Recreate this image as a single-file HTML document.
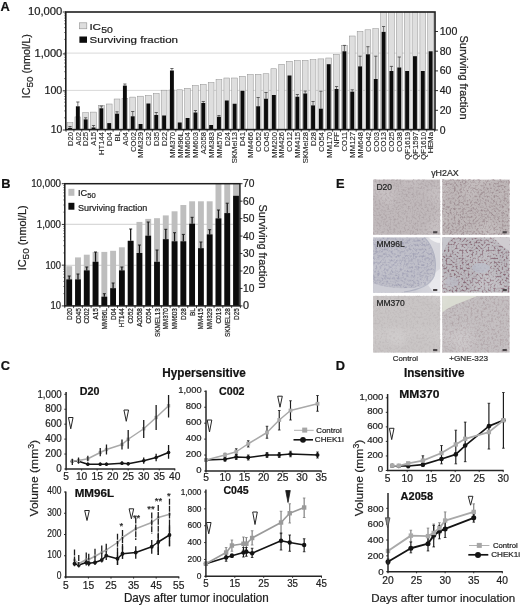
<!DOCTYPE html>
<html lang="en"><head><meta charset="utf-8"><title>Figure</title>
<style>html,body{margin:0;padding:0;background:#fff}svg{display:block}text{font-family:"Liberation Sans",sans-serif;stroke-width:.22px}</style></head>
<body>
<svg width="520" height="606" viewBox="0 0 520 606">
<rect width="520" height="606" fill="#fff"/>
<g id="panelA">
<line x1="65.80" y1="53.10" x2="435.00" y2="53.10" stroke="#cfcfcf" stroke-width="0.8"/>
<line x1="65.80" y1="90.40" x2="435.00" y2="90.40" stroke="#cfcfcf" stroke-width="0.8"/>
<rect x="67.10" y="122.70" width="5.80" height="6.90" fill="#dedede" stroke="#8f8f8f" stroke-width="0.5"/>
<rect x="74.94" y="116.90" width="5.80" height="12.70" fill="#dedede" stroke="#8f8f8f" stroke-width="0.5"/>
<rect x="82.78" y="112.70" width="5.80" height="16.90" fill="#dedede" stroke="#8f8f8f" stroke-width="0.5"/>
<rect x="90.62" y="112.10" width="5.80" height="17.50" fill="#dedede" stroke="#8f8f8f" stroke-width="0.5"/>
<rect x="98.46" y="105.40" width="5.80" height="24.20" fill="#dedede" stroke="#8f8f8f" stroke-width="0.5"/>
<rect x="106.30" y="104.00" width="5.80" height="25.60" fill="#dedede" stroke="#8f8f8f" stroke-width="0.5"/>
<rect x="114.14" y="99.00" width="5.80" height="30.60" fill="#dedede" stroke="#8f8f8f" stroke-width="0.5"/>
<rect x="121.98" y="98.70" width="5.80" height="30.90" fill="#dedede" stroke="#8f8f8f" stroke-width="0.5"/>
<rect x="129.82" y="97.10" width="5.80" height="32.50" fill="#dedede" stroke="#8f8f8f" stroke-width="0.5"/>
<rect x="137.66" y="96.20" width="5.80" height="33.40" fill="#dedede" stroke="#8f8f8f" stroke-width="0.5"/>
<rect x="145.50" y="95.40" width="5.80" height="34.20" fill="#dedede" stroke="#8f8f8f" stroke-width="0.5"/>
<rect x="153.34" y="93.50" width="5.80" height="36.10" fill="#dedede" stroke="#8f8f8f" stroke-width="0.5"/>
<rect x="161.18" y="90.20" width="5.80" height="39.40" fill="#dedede" stroke="#8f8f8f" stroke-width="0.5"/>
<rect x="169.02" y="90.00" width="5.80" height="39.60" fill="#dedede" stroke="#8f8f8f" stroke-width="0.5"/>
<rect x="176.86" y="89.80" width="5.80" height="39.80" fill="#dedede" stroke="#8f8f8f" stroke-width="0.5"/>
<rect x="184.70" y="88.25" width="5.80" height="41.35" fill="#dedede" stroke="#8f8f8f" stroke-width="0.5"/>
<rect x="192.54" y="85.50" width="5.80" height="44.10" fill="#dedede" stroke="#8f8f8f" stroke-width="0.5"/>
<rect x="200.38" y="84.25" width="5.80" height="45.35" fill="#dedede" stroke="#8f8f8f" stroke-width="0.5"/>
<rect x="208.22" y="82.50" width="5.80" height="47.10" fill="#dedede" stroke="#8f8f8f" stroke-width="0.5"/>
<rect x="216.06" y="79.50" width="5.80" height="50.10" fill="#dedede" stroke="#8f8f8f" stroke-width="0.5"/>
<rect x="223.90" y="78.00" width="5.80" height="51.60" fill="#dedede" stroke="#8f8f8f" stroke-width="0.5"/>
<rect x="231.74" y="78.00" width="5.80" height="51.60" fill="#dedede" stroke="#8f8f8f" stroke-width="0.5"/>
<rect x="239.58" y="76.25" width="5.80" height="53.35" fill="#dedede" stroke="#8f8f8f" stroke-width="0.5"/>
<rect x="247.42" y="74.50" width="5.80" height="55.10" fill="#dedede" stroke="#8f8f8f" stroke-width="0.5"/>
<rect x="255.26" y="74.25" width="5.80" height="55.35" fill="#dedede" stroke="#8f8f8f" stroke-width="0.5"/>
<rect x="263.10" y="73.75" width="5.80" height="55.85" fill="#dedede" stroke="#8f8f8f" stroke-width="0.5"/>
<rect x="270.94" y="68.75" width="5.80" height="60.85" fill="#dedede" stroke="#8f8f8f" stroke-width="0.5"/>
<rect x="278.78" y="64.25" width="5.80" height="65.35" fill="#dedede" stroke="#8f8f8f" stroke-width="0.5"/>
<rect x="286.62" y="61.25" width="5.80" height="68.35" fill="#dedede" stroke="#8f8f8f" stroke-width="0.5"/>
<rect x="294.46" y="60.50" width="5.80" height="69.10" fill="#dedede" stroke="#8f8f8f" stroke-width="0.5"/>
<rect x="302.30" y="60.40" width="5.80" height="69.20" fill="#dedede" stroke="#8f8f8f" stroke-width="0.5"/>
<rect x="310.14" y="59.70" width="5.80" height="69.90" fill="#dedede" stroke="#8f8f8f" stroke-width="0.5"/>
<rect x="317.98" y="58.90" width="5.80" height="70.70" fill="#dedede" stroke="#8f8f8f" stroke-width="0.5"/>
<rect x="325.82" y="58.00" width="5.80" height="71.60" fill="#dedede" stroke="#8f8f8f" stroke-width="0.5"/>
<rect x="333.66" y="54.30" width="5.80" height="75.30" fill="#dedede" stroke="#8f8f8f" stroke-width="0.5"/>
<rect x="341.50" y="45.40" width="5.80" height="84.20" fill="#dedede" stroke="#8f8f8f" stroke-width="0.5"/>
<rect x="349.34" y="36.00" width="5.80" height="93.60" fill="#dedede" stroke="#8f8f8f" stroke-width="0.5"/>
<rect x="357.18" y="31.40" width="5.80" height="98.20" fill="#dedede" stroke="#8f8f8f" stroke-width="0.5"/>
<rect x="365.02" y="29.80" width="5.80" height="99.80" fill="#dedede" stroke="#8f8f8f" stroke-width="0.5"/>
<rect x="372.86" y="28.70" width="5.80" height="100.90" fill="#dedede" stroke="#8f8f8f" stroke-width="0.5"/>
<rect x="380.70" y="12.00" width="5.80" height="117.60" fill="#dedede" stroke="#8f8f8f" stroke-width="0.5"/>
<rect x="388.54" y="12.00" width="5.80" height="117.60" fill="#dedede" stroke="#8f8f8f" stroke-width="0.5"/>
<rect x="396.38" y="12.00" width="5.80" height="117.60" fill="#dedede" stroke="#8f8f8f" stroke-width="0.5"/>
<rect x="404.22" y="12.00" width="5.80" height="117.60" fill="#dedede" stroke="#8f8f8f" stroke-width="0.5"/>
<rect x="412.06" y="12.00" width="5.80" height="117.60" fill="#dedede" stroke="#8f8f8f" stroke-width="0.5"/>
<rect x="419.90" y="12.00" width="5.80" height="117.60" fill="#dedede" stroke="#8f8f8f" stroke-width="0.5"/>
<rect x="427.74" y="12.00" width="5.80" height="117.60" fill="#dedede" stroke="#8f8f8f" stroke-width="0.5"/>
<line x1="70.00" y1="126.50" x2="70.00" y2="127.90" stroke="#444" stroke-width="0.7"/>
<line x1="68.40" y1="126.50" x2="71.60" y2="126.50" stroke="#444" stroke-width="0.8"/>
<rect x="68.05" y="127.90" width="3.90" height="1.70" fill="#0c0c0c"/>
<line x1="77.84" y1="102.00" x2="77.84" y2="106.30" stroke="#444" stroke-width="0.7"/>
<line x1="76.24" y1="102.00" x2="79.44" y2="102.00" stroke="#444" stroke-width="0.8"/>
<rect x="75.89" y="106.30" width="3.90" height="23.30" fill="#0c0c0c"/>
<line x1="85.68" y1="117.80" x2="85.68" y2="119.40" stroke="#444" stroke-width="0.7"/>
<line x1="84.08" y1="117.80" x2="87.28" y2="117.80" stroke="#444" stroke-width="0.8"/>
<rect x="83.73" y="119.40" width="3.90" height="10.20" fill="#0c0c0c"/>
<line x1="93.52" y1="125.50" x2="93.52" y2="127.50" stroke="#444" stroke-width="0.7"/>
<line x1="91.92" y1="125.50" x2="95.12" y2="125.50" stroke="#444" stroke-width="0.8"/>
<rect x="91.57" y="127.50" width="3.90" height="2.10" fill="#0c0c0c"/>
<line x1="101.36" y1="106.00" x2="101.36" y2="108.30" stroke="#444" stroke-width="0.7"/>
<line x1="99.76" y1="106.00" x2="102.96" y2="106.00" stroke="#444" stroke-width="0.8"/>
<rect x="99.41" y="108.30" width="3.90" height="21.30" fill="#0c0c0c"/>
<rect x="107.25" y="123.10" width="3.90" height="6.50" fill="#0c0c0c"/>
<line x1="117.04" y1="111.80" x2="117.04" y2="113.70" stroke="#444" stroke-width="0.7"/>
<line x1="115.44" y1="111.80" x2="118.64" y2="111.80" stroke="#444" stroke-width="0.8"/>
<rect x="115.09" y="113.70" width="3.90" height="15.90" fill="#0c0c0c"/>
<line x1="124.88" y1="84.00" x2="124.88" y2="85.60" stroke="#444" stroke-width="0.7"/>
<line x1="123.28" y1="84.00" x2="126.48" y2="84.00" stroke="#444" stroke-width="0.8"/>
<rect x="122.93" y="85.60" width="3.90" height="44.00" fill="#0c0c0c"/>
<line x1="132.72" y1="111.50" x2="132.72" y2="116.30" stroke="#444" stroke-width="0.7"/>
<line x1="131.12" y1="111.50" x2="134.32" y2="111.50" stroke="#444" stroke-width="0.8"/>
<rect x="130.77" y="116.30" width="3.90" height="13.30" fill="#0c0c0c"/>
<rect x="138.61" y="124.00" width="3.90" height="5.60" fill="#0c0c0c"/>
<rect x="146.45" y="103.50" width="3.90" height="26.10" fill="#0c0c0c"/>
<line x1="156.24" y1="112.50" x2="156.24" y2="115.00" stroke="#444" stroke-width="0.7"/>
<line x1="154.64" y1="112.50" x2="157.84" y2="112.50" stroke="#444" stroke-width="0.8"/>
<rect x="154.29" y="115.00" width="3.90" height="14.60" fill="#0c0c0c"/>
<rect x="162.13" y="115.50" width="3.90" height="14.10" fill="#0c0c0c"/>
<line x1="171.92" y1="68.50" x2="171.92" y2="70.50" stroke="#444" stroke-width="0.7"/>
<line x1="170.32" y1="68.50" x2="173.52" y2="68.50" stroke="#444" stroke-width="0.8"/>
<rect x="169.97" y="70.50" width="3.90" height="59.10" fill="#0c0c0c"/>
<rect x="177.81" y="122.50" width="3.90" height="7.10" fill="#0c0c0c"/>
<rect x="185.65" y="118.00" width="3.90" height="11.60" fill="#0c0c0c"/>
<line x1="195.44" y1="110.50" x2="195.44" y2="112.50" stroke="#444" stroke-width="0.7"/>
<line x1="193.84" y1="110.50" x2="197.04" y2="110.50" stroke="#444" stroke-width="0.8"/>
<rect x="193.49" y="112.50" width="3.90" height="17.10" fill="#0c0c0c"/>
<line x1="203.28" y1="101.50" x2="203.28" y2="103.00" stroke="#444" stroke-width="0.7"/>
<line x1="201.68" y1="101.50" x2="204.88" y2="101.50" stroke="#444" stroke-width="0.8"/>
<rect x="201.33" y="103.00" width="3.90" height="26.60" fill="#0c0c0c"/>
<rect x="209.17" y="125.00" width="3.90" height="4.60" fill="#0c0c0c"/>
<line x1="218.96" y1="115.50" x2="218.96" y2="116.75" stroke="#444" stroke-width="0.7"/>
<line x1="217.36" y1="115.50" x2="220.56" y2="115.50" stroke="#444" stroke-width="0.8"/>
<rect x="217.01" y="116.75" width="3.90" height="12.85" fill="#0c0c0c"/>
<rect x="224.85" y="100.50" width="3.90" height="29.10" fill="#0c0c0c"/>
<rect x="232.69" y="103.75" width="3.90" height="25.85" fill="#0c0c0c"/>
<rect x="240.53" y="90.75" width="3.90" height="38.85" fill="#0c0c0c"/>
<line x1="258.16" y1="97.50" x2="258.16" y2="106.25" stroke="#444" stroke-width="0.7"/>
<line x1="256.56" y1="97.50" x2="259.76" y2="97.50" stroke="#444" stroke-width="0.8"/>
<rect x="256.21" y="106.25" width="3.90" height="23.35" fill="#0c0c0c"/>
<line x1="266.00" y1="92.50" x2="266.00" y2="98.75" stroke="#444" stroke-width="0.7"/>
<line x1="264.40" y1="92.50" x2="267.60" y2="92.50" stroke="#444" stroke-width="0.8"/>
<rect x="264.05" y="98.75" width="3.90" height="30.85" fill="#0c0c0c"/>
<rect x="271.89" y="95.00" width="3.90" height="34.60" fill="#0c0c0c"/>
<rect x="287.57" y="75.50" width="3.90" height="54.10" fill="#0c0c0c"/>
<line x1="297.36" y1="94.50" x2="297.36" y2="96.75" stroke="#444" stroke-width="0.7"/>
<line x1="295.76" y1="94.50" x2="298.96" y2="94.50" stroke="#444" stroke-width="0.8"/>
<rect x="295.41" y="96.75" width="3.90" height="32.85" fill="#0c0c0c"/>
<line x1="305.20" y1="91.00" x2="305.20" y2="93.50" stroke="#444" stroke-width="0.7"/>
<line x1="303.60" y1="91.00" x2="306.80" y2="91.00" stroke="#444" stroke-width="0.8"/>
<rect x="303.25" y="93.50" width="3.90" height="36.10" fill="#0c0c0c"/>
<line x1="313.04" y1="101.50" x2="313.04" y2="105.40" stroke="#444" stroke-width="0.7"/>
<line x1="311.44" y1="101.50" x2="314.64" y2="101.50" stroke="#444" stroke-width="0.8"/>
<rect x="311.09" y="105.40" width="3.90" height="24.20" fill="#0c0c0c"/>
<line x1="320.88" y1="91.20" x2="320.88" y2="108.70" stroke="#444" stroke-width="0.7"/>
<line x1="319.28" y1="91.20" x2="322.48" y2="91.20" stroke="#444" stroke-width="0.8"/>
<rect x="318.93" y="108.70" width="3.90" height="20.90" fill="#0c0c0c"/>
<rect x="326.77" y="64.20" width="3.90" height="65.40" fill="#0c0c0c"/>
<line x1="336.56" y1="86.50" x2="336.56" y2="89.00" stroke="#444" stroke-width="0.7"/>
<line x1="334.96" y1="86.50" x2="338.16" y2="86.50" stroke="#444" stroke-width="0.8"/>
<rect x="334.61" y="89.00" width="3.90" height="40.60" fill="#0c0c0c"/>
<line x1="344.40" y1="45.40" x2="344.40" y2="51.30" stroke="#444" stroke-width="0.7"/>
<line x1="342.80" y1="45.40" x2="346.00" y2="45.40" stroke="#444" stroke-width="0.8"/>
<rect x="342.45" y="51.30" width="3.90" height="78.30" fill="#0c0c0c"/>
<line x1="352.24" y1="89.80" x2="352.24" y2="91.70" stroke="#444" stroke-width="0.7"/>
<line x1="350.64" y1="89.80" x2="353.84" y2="89.80" stroke="#444" stroke-width="0.8"/>
<rect x="350.29" y="91.70" width="3.90" height="37.90" fill="#0c0c0c"/>
<line x1="360.08" y1="56.20" x2="360.08" y2="66.40" stroke="#444" stroke-width="0.7"/>
<line x1="358.48" y1="56.20" x2="361.68" y2="56.20" stroke="#444" stroke-width="0.8"/>
<rect x="358.13" y="66.40" width="3.90" height="63.20" fill="#0c0c0c"/>
<line x1="367.92" y1="46.70" x2="367.92" y2="54.30" stroke="#444" stroke-width="0.7"/>
<line x1="366.32" y1="46.70" x2="369.52" y2="46.70" stroke="#444" stroke-width="0.8"/>
<rect x="365.97" y="54.30" width="3.90" height="75.30" fill="#0c0c0c"/>
<line x1="375.76" y1="56.20" x2="375.76" y2="79.00" stroke="#444" stroke-width="0.7"/>
<line x1="374.16" y1="56.20" x2="377.36" y2="56.20" stroke="#444" stroke-width="0.8"/>
<rect x="373.81" y="79.00" width="3.90" height="50.60" fill="#0c0c0c"/>
<line x1="383.60" y1="26.50" x2="383.60" y2="31.90" stroke="#444" stroke-width="0.7"/>
<line x1="382.00" y1="26.50" x2="385.20" y2="26.50" stroke="#444" stroke-width="0.8"/>
<rect x="381.65" y="31.90" width="3.90" height="97.70" fill="#0c0c0c"/>
<line x1="391.44" y1="66.40" x2="391.44" y2="71.00" stroke="#444" stroke-width="0.7"/>
<line x1="389.84" y1="66.40" x2="393.04" y2="66.40" stroke="#444" stroke-width="0.8"/>
<rect x="389.49" y="71.00" width="3.90" height="58.60" fill="#0c0c0c"/>
<line x1="399.28" y1="57.00" x2="399.28" y2="67.50" stroke="#444" stroke-width="0.7"/>
<line x1="397.68" y1="57.00" x2="400.88" y2="57.00" stroke="#444" stroke-width="0.8"/>
<rect x="397.33" y="67.50" width="3.90" height="62.10" fill="#0c0c0c"/>
<rect x="405.17" y="71.00" width="3.90" height="58.60" fill="#0c0c0c"/>
<rect x="413.01" y="56.20" width="3.90" height="73.40" fill="#0c0c0c"/>
<rect x="420.85" y="71.00" width="3.90" height="58.60" fill="#0c0c0c"/>
<rect x="428.69" y="51.30" width="3.90" height="78.30" fill="#0c0c0c"/>
<rect x="65.8" y="12.0" width="369.20" height="117.60" fill="none" stroke="#1e1e1e" stroke-width="1.6"/>
<line x1="66.08" y1="129.60" x2="66.08" y2="131.80" stroke="#1e1e1e" stroke-width="0.8"/>
<line x1="73.92" y1="129.60" x2="73.92" y2="131.80" stroke="#1e1e1e" stroke-width="0.8"/>
<line x1="81.76" y1="129.60" x2="81.76" y2="131.80" stroke="#1e1e1e" stroke-width="0.8"/>
<line x1="89.60" y1="129.60" x2="89.60" y2="131.80" stroke="#1e1e1e" stroke-width="0.8"/>
<line x1="97.44" y1="129.60" x2="97.44" y2="131.80" stroke="#1e1e1e" stroke-width="0.8"/>
<line x1="105.28" y1="129.60" x2="105.28" y2="131.80" stroke="#1e1e1e" stroke-width="0.8"/>
<line x1="113.12" y1="129.60" x2="113.12" y2="131.80" stroke="#1e1e1e" stroke-width="0.8"/>
<line x1="120.96" y1="129.60" x2="120.96" y2="131.80" stroke="#1e1e1e" stroke-width="0.8"/>
<line x1="128.80" y1="129.60" x2="128.80" y2="131.80" stroke="#1e1e1e" stroke-width="0.8"/>
<line x1="136.64" y1="129.60" x2="136.64" y2="131.80" stroke="#1e1e1e" stroke-width="0.8"/>
<line x1="144.48" y1="129.60" x2="144.48" y2="131.80" stroke="#1e1e1e" stroke-width="0.8"/>
<line x1="152.32" y1="129.60" x2="152.32" y2="131.80" stroke="#1e1e1e" stroke-width="0.8"/>
<line x1="160.16" y1="129.60" x2="160.16" y2="131.80" stroke="#1e1e1e" stroke-width="0.8"/>
<line x1="168.00" y1="129.60" x2="168.00" y2="131.80" stroke="#1e1e1e" stroke-width="0.8"/>
<line x1="175.84" y1="129.60" x2="175.84" y2="131.80" stroke="#1e1e1e" stroke-width="0.8"/>
<line x1="183.68" y1="129.60" x2="183.68" y2="131.80" stroke="#1e1e1e" stroke-width="0.8"/>
<line x1="191.52" y1="129.60" x2="191.52" y2="131.80" stroke="#1e1e1e" stroke-width="0.8"/>
<line x1="199.36" y1="129.60" x2="199.36" y2="131.80" stroke="#1e1e1e" stroke-width="0.8"/>
<line x1="207.20" y1="129.60" x2="207.20" y2="131.80" stroke="#1e1e1e" stroke-width="0.8"/>
<line x1="215.04" y1="129.60" x2="215.04" y2="131.80" stroke="#1e1e1e" stroke-width="0.8"/>
<line x1="222.88" y1="129.60" x2="222.88" y2="131.80" stroke="#1e1e1e" stroke-width="0.8"/>
<line x1="230.72" y1="129.60" x2="230.72" y2="131.80" stroke="#1e1e1e" stroke-width="0.8"/>
<line x1="238.56" y1="129.60" x2="238.56" y2="131.80" stroke="#1e1e1e" stroke-width="0.8"/>
<line x1="246.40" y1="129.60" x2="246.40" y2="131.80" stroke="#1e1e1e" stroke-width="0.8"/>
<line x1="254.24" y1="129.60" x2="254.24" y2="131.80" stroke="#1e1e1e" stroke-width="0.8"/>
<line x1="262.08" y1="129.60" x2="262.08" y2="131.80" stroke="#1e1e1e" stroke-width="0.8"/>
<line x1="269.92" y1="129.60" x2="269.92" y2="131.80" stroke="#1e1e1e" stroke-width="0.8"/>
<line x1="277.76" y1="129.60" x2="277.76" y2="131.80" stroke="#1e1e1e" stroke-width="0.8"/>
<line x1="285.60" y1="129.60" x2="285.60" y2="131.80" stroke="#1e1e1e" stroke-width="0.8"/>
<line x1="293.44" y1="129.60" x2="293.44" y2="131.80" stroke="#1e1e1e" stroke-width="0.8"/>
<line x1="301.28" y1="129.60" x2="301.28" y2="131.80" stroke="#1e1e1e" stroke-width="0.8"/>
<line x1="309.12" y1="129.60" x2="309.12" y2="131.80" stroke="#1e1e1e" stroke-width="0.8"/>
<line x1="316.96" y1="129.60" x2="316.96" y2="131.80" stroke="#1e1e1e" stroke-width="0.8"/>
<line x1="324.80" y1="129.60" x2="324.80" y2="131.80" stroke="#1e1e1e" stroke-width="0.8"/>
<line x1="332.64" y1="129.60" x2="332.64" y2="131.80" stroke="#1e1e1e" stroke-width="0.8"/>
<line x1="340.48" y1="129.60" x2="340.48" y2="131.80" stroke="#1e1e1e" stroke-width="0.8"/>
<line x1="348.32" y1="129.60" x2="348.32" y2="131.80" stroke="#1e1e1e" stroke-width="0.8"/>
<line x1="356.16" y1="129.60" x2="356.16" y2="131.80" stroke="#1e1e1e" stroke-width="0.8"/>
<line x1="364.00" y1="129.60" x2="364.00" y2="131.80" stroke="#1e1e1e" stroke-width="0.8"/>
<line x1="371.84" y1="129.60" x2="371.84" y2="131.80" stroke="#1e1e1e" stroke-width="0.8"/>
<line x1="379.68" y1="129.60" x2="379.68" y2="131.80" stroke="#1e1e1e" stroke-width="0.8"/>
<line x1="387.52" y1="129.60" x2="387.52" y2="131.80" stroke="#1e1e1e" stroke-width="0.8"/>
<line x1="395.36" y1="129.60" x2="395.36" y2="131.80" stroke="#1e1e1e" stroke-width="0.8"/>
<line x1="403.20" y1="129.60" x2="403.20" y2="131.80" stroke="#1e1e1e" stroke-width="0.8"/>
<line x1="411.04" y1="129.60" x2="411.04" y2="131.80" stroke="#1e1e1e" stroke-width="0.8"/>
<line x1="418.88" y1="129.60" x2="418.88" y2="131.80" stroke="#1e1e1e" stroke-width="0.8"/>
<line x1="426.72" y1="129.60" x2="426.72" y2="131.80" stroke="#1e1e1e" stroke-width="0.8"/>
<line x1="434.56" y1="129.60" x2="434.56" y2="131.80" stroke="#1e1e1e" stroke-width="0.8"/>
<line x1="64.00" y1="117.80" x2="65.80" y2="117.80" stroke="#1e1e1e" stroke-width="0.5"/>
<line x1="64.00" y1="110.90" x2="65.80" y2="110.90" stroke="#1e1e1e" stroke-width="0.5"/>
<line x1="64.00" y1="106.00" x2="65.80" y2="106.00" stroke="#1e1e1e" stroke-width="0.5"/>
<line x1="64.00" y1="102.20" x2="65.80" y2="102.20" stroke="#1e1e1e" stroke-width="0.5"/>
<line x1="64.00" y1="99.10" x2="65.80" y2="99.10" stroke="#1e1e1e" stroke-width="0.5"/>
<line x1="64.00" y1="96.47" x2="65.80" y2="96.47" stroke="#1e1e1e" stroke-width="0.5"/>
<line x1="64.00" y1="94.20" x2="65.80" y2="94.20" stroke="#1e1e1e" stroke-width="0.5"/>
<line x1="64.00" y1="92.19" x2="65.80" y2="92.19" stroke="#1e1e1e" stroke-width="0.5"/>
<line x1="64.00" y1="78.60" x2="65.80" y2="78.60" stroke="#1e1e1e" stroke-width="0.5"/>
<line x1="64.00" y1="71.70" x2="65.80" y2="71.70" stroke="#1e1e1e" stroke-width="0.5"/>
<line x1="64.00" y1="66.80" x2="65.80" y2="66.80" stroke="#1e1e1e" stroke-width="0.5"/>
<line x1="64.00" y1="63.00" x2="65.80" y2="63.00" stroke="#1e1e1e" stroke-width="0.5"/>
<line x1="64.00" y1="59.90" x2="65.80" y2="59.90" stroke="#1e1e1e" stroke-width="0.5"/>
<line x1="64.00" y1="57.27" x2="65.80" y2="57.27" stroke="#1e1e1e" stroke-width="0.5"/>
<line x1="64.00" y1="55.00" x2="65.80" y2="55.00" stroke="#1e1e1e" stroke-width="0.5"/>
<line x1="64.00" y1="52.99" x2="65.80" y2="52.99" stroke="#1e1e1e" stroke-width="0.5"/>
<line x1="64.00" y1="39.40" x2="65.80" y2="39.40" stroke="#1e1e1e" stroke-width="0.5"/>
<line x1="64.00" y1="32.50" x2="65.80" y2="32.50" stroke="#1e1e1e" stroke-width="0.5"/>
<line x1="64.00" y1="27.60" x2="65.80" y2="27.60" stroke="#1e1e1e" stroke-width="0.5"/>
<line x1="64.00" y1="23.80" x2="65.80" y2="23.80" stroke="#1e1e1e" stroke-width="0.5"/>
<line x1="64.00" y1="20.70" x2="65.80" y2="20.70" stroke="#1e1e1e" stroke-width="0.5"/>
<line x1="64.00" y1="18.07" x2="65.80" y2="18.07" stroke="#1e1e1e" stroke-width="0.5"/>
<line x1="64.00" y1="15.80" x2="65.80" y2="15.80" stroke="#1e1e1e" stroke-width="0.5"/>
<line x1="64.00" y1="13.79" x2="65.80" y2="13.79" stroke="#1e1e1e" stroke-width="0.5"/>
<line x1="62.80" y1="130.00" x2="65.80" y2="130.00" stroke="#1e1e1e" stroke-width="0.9"/>
<text x="62.30" y="133.20" font-size="10.2" text-anchor="end" fill="#1e1e1e" stroke="#1e1e1e" textLength="11.6" lengthAdjust="spacingAndGlyphs">10</text>
<line x1="62.80" y1="90.80" x2="65.80" y2="90.80" stroke="#1e1e1e" stroke-width="0.9"/>
<text x="62.30" y="94.00" font-size="10.2" text-anchor="end" fill="#1e1e1e" stroke="#1e1e1e" textLength="17.8" lengthAdjust="spacingAndGlyphs">100</text>
<line x1="62.80" y1="53.90" x2="65.80" y2="53.90" stroke="#1e1e1e" stroke-width="0.9"/>
<text x="62.30" y="57.10" font-size="10.2" text-anchor="end" fill="#1e1e1e" stroke="#1e1e1e" textLength="27.8" lengthAdjust="spacingAndGlyphs">1,000</text>
<line x1="62.80" y1="12.00" x2="65.80" y2="12.00" stroke="#1e1e1e" stroke-width="0.9"/>
<text x="62.30" y="15.20" font-size="10.2" text-anchor="end" fill="#1e1e1e" stroke="#1e1e1e" textLength="34.3" lengthAdjust="spacingAndGlyphs">10,000</text>
<line x1="435.00" y1="130.00" x2="438.00" y2="130.00" stroke="#1e1e1e" stroke-width="0.9"/>
<text x="439.70" y="133.50" font-size="10.2" fill="#1e1e1e" stroke="#1e1e1e" textLength="5.8" lengthAdjust="spacingAndGlyphs">0</text>
<line x1="435.00" y1="110.30" x2="438.00" y2="110.30" stroke="#1e1e1e" stroke-width="0.9"/>
<text x="439.70" y="113.80" font-size="10.2" fill="#1e1e1e" stroke="#1e1e1e" textLength="11.7" lengthAdjust="spacingAndGlyphs">20</text>
<line x1="435.00" y1="90.60" x2="438.00" y2="90.60" stroke="#1e1e1e" stroke-width="0.9"/>
<text x="439.70" y="94.10" font-size="10.2" fill="#1e1e1e" stroke="#1e1e1e" textLength="11.7" lengthAdjust="spacingAndGlyphs">40</text>
<line x1="435.00" y1="70.90" x2="438.00" y2="70.90" stroke="#1e1e1e" stroke-width="0.9"/>
<text x="439.70" y="74.40" font-size="10.2" fill="#1e1e1e" stroke="#1e1e1e" textLength="11.7" lengthAdjust="spacingAndGlyphs">60</text>
<line x1="435.00" y1="51.20" x2="438.00" y2="51.20" stroke="#1e1e1e" stroke-width="0.9"/>
<text x="439.70" y="54.70" font-size="10.2" fill="#1e1e1e" stroke="#1e1e1e" textLength="11.7" lengthAdjust="spacingAndGlyphs">80</text>
<line x1="435.00" y1="31.50" x2="438.00" y2="31.50" stroke="#1e1e1e" stroke-width="0.9"/>
<text x="439.70" y="35.00" font-size="10.2" fill="#1e1e1e" stroke="#1e1e1e" textLength="17.7" lengthAdjust="spacingAndGlyphs">100</text>
<text x="72.80" y="132.00" font-size="7.7" text-anchor="end" fill="#1e1e1e" stroke="#1e1e1e" style="stroke-width:0.1px" transform="rotate(-90 72.80 132.00)">D20</text>
<text x="80.64" y="132.00" font-size="7.7" text-anchor="end" fill="#1e1e1e" stroke="#1e1e1e" style="stroke-width:0.1px" transform="rotate(-90 80.64 132.00)">A02</text>
<text x="88.48" y="132.00" font-size="7.7" text-anchor="end" fill="#1e1e1e" stroke="#1e1e1e" style="stroke-width:0.1px" transform="rotate(-90 88.48 132.00)">D25</text>
<text x="96.32" y="132.00" font-size="7.7" text-anchor="end" fill="#1e1e1e" stroke="#1e1e1e" style="stroke-width:0.1px" transform="rotate(-90 96.32 132.00)">A15</text>
<text x="104.16" y="132.00" font-size="7.7" text-anchor="end" fill="#1e1e1e" stroke="#1e1e1e" style="stroke-width:0.1px" transform="rotate(-90 104.16 132.00)">HT144</text>
<text x="112.00" y="132.00" font-size="7.7" text-anchor="end" fill="#1e1e1e" stroke="#1e1e1e" style="stroke-width:0.1px" transform="rotate(-90 112.00 132.00)">D04</text>
<text x="119.84" y="132.00" font-size="7.7" text-anchor="end" fill="#1e1e1e" stroke="#1e1e1e" style="stroke-width:0.1px" transform="rotate(-90 119.84 132.00)">BL</text>
<text x="127.68" y="132.00" font-size="7.7" text-anchor="end" fill="#1e1e1e" stroke="#1e1e1e" style="stroke-width:0.1px" transform="rotate(-90 127.68 132.00)">A04</text>
<text x="135.52" y="132.00" font-size="7.7" text-anchor="end" fill="#1e1e1e" stroke="#1e1e1e" style="stroke-width:0.1px" transform="rotate(-90 135.52 132.00)">CO02</text>
<text x="143.36" y="132.00" font-size="7.7" text-anchor="end" fill="#1e1e1e" stroke="#1e1e1e" style="stroke-width:0.1px" transform="rotate(-90 143.36 132.00)">MM329</text>
<text x="151.20" y="132.00" font-size="7.7" text-anchor="end" fill="#1e1e1e" stroke="#1e1e1e" style="stroke-width:0.1px" transform="rotate(-90 151.20 132.00)">C32</text>
<text x="159.04" y="132.00" font-size="7.7" text-anchor="end" fill="#1e1e1e" stroke="#1e1e1e" style="stroke-width:0.1px" transform="rotate(-90 159.04 132.00)">D35</text>
<text x="166.88" y="132.00" font-size="7.7" text-anchor="end" fill="#1e1e1e" stroke="#1e1e1e" style="stroke-width:0.1px" transform="rotate(-90 166.88 132.00)">D22</text>
<text x="174.72" y="132.00" font-size="7.7" text-anchor="end" fill="#1e1e1e" stroke="#1e1e1e" style="stroke-width:0.1px" transform="rotate(-90 174.72 132.00)">MM370</text>
<text x="182.56" y="132.00" font-size="7.7" text-anchor="end" fill="#1e1e1e" stroke="#1e1e1e" style="stroke-width:0.1px" transform="rotate(-90 182.56 132.00)">MM96L</text>
<text x="190.40" y="132.00" font-size="7.7" text-anchor="end" fill="#1e1e1e" stroke="#1e1e1e" style="stroke-width:0.1px" transform="rotate(-90 190.40 132.00)">MM604</text>
<text x="198.24" y="132.00" font-size="7.7" text-anchor="end" fill="#1e1e1e" stroke="#1e1e1e" style="stroke-width:0.1px" transform="rotate(-90 198.24 132.00)">MM603</text>
<text x="206.08" y="132.00" font-size="7.7" text-anchor="end" fill="#1e1e1e" stroke="#1e1e1e" style="stroke-width:0.1px" transform="rotate(-90 206.08 132.00)">A2058</text>
<text x="213.92" y="132.00" font-size="7.7" text-anchor="end" fill="#1e1e1e" stroke="#1e1e1e" style="stroke-width:0.1px" transform="rotate(-90 213.92 132.00)">MM383</text>
<text x="221.76" y="132.00" font-size="7.7" text-anchor="end" fill="#1e1e1e" stroke="#1e1e1e" style="stroke-width:0.1px" transform="rotate(-90 221.76 132.00)">MM576</text>
<text x="229.60" y="132.00" font-size="7.7" text-anchor="end" fill="#1e1e1e" stroke="#1e1e1e" style="stroke-width:0.1px" transform="rotate(-90 229.60 132.00)">D24</text>
<text x="237.44" y="132.00" font-size="7.7" text-anchor="end" fill="#1e1e1e" stroke="#1e1e1e" style="stroke-width:0.1px" transform="rotate(-90 237.44 132.00)">SKMel13</text>
<text x="245.28" y="132.00" font-size="7.7" text-anchor="end" fill="#1e1e1e" stroke="#1e1e1e" style="stroke-width:0.1px" transform="rotate(-90 245.28 132.00)">D41</text>
<text x="253.12" y="132.00" font-size="7.7" text-anchor="end" fill="#1e1e1e" stroke="#1e1e1e" style="stroke-width:0.1px" transform="rotate(-90 253.12 132.00)">MM466</text>
<text x="260.96" y="132.00" font-size="7.7" text-anchor="end" fill="#1e1e1e" stroke="#1e1e1e" style="stroke-width:0.1px" transform="rotate(-90 260.96 132.00)">CO52</text>
<text x="268.80" y="132.00" font-size="7.7" text-anchor="end" fill="#1e1e1e" stroke="#1e1e1e" style="stroke-width:0.1px" transform="rotate(-90 268.80 132.00)">CO45</text>
<text x="276.64" y="132.00" font-size="7.7" text-anchor="end" fill="#1e1e1e" stroke="#1e1e1e" style="stroke-width:0.1px" transform="rotate(-90 276.64 132.00)">MM200</text>
<text x="284.48" y="132.00" font-size="7.7" text-anchor="end" fill="#1e1e1e" stroke="#1e1e1e" style="stroke-width:0.1px" transform="rotate(-90 284.48 132.00)">MM426</text>
<text x="292.32" y="132.00" font-size="7.7" text-anchor="end" fill="#1e1e1e" stroke="#1e1e1e" style="stroke-width:0.1px" transform="rotate(-90 292.32 132.00)">CO12</text>
<text x="300.16" y="132.00" font-size="7.7" text-anchor="end" fill="#1e1e1e" stroke="#1e1e1e" style="stroke-width:0.1px" transform="rotate(-90 300.16 132.00)">MM415</text>
<text x="308.00" y="132.00" font-size="7.7" text-anchor="end" fill="#1e1e1e" stroke="#1e1e1e" style="stroke-width:0.1px" transform="rotate(-90 308.00 132.00)">SKMel28</text>
<text x="315.84" y="132.00" font-size="7.7" text-anchor="end" fill="#1e1e1e" stroke="#1e1e1e" style="stroke-width:0.1px" transform="rotate(-90 315.84 132.00)">D28</text>
<text x="323.68" y="132.00" font-size="7.7" text-anchor="end" fill="#1e1e1e" stroke="#1e1e1e" style="stroke-width:0.1px" transform="rotate(-90 323.68 132.00)">CO54</text>
<text x="331.52" y="132.00" font-size="7.7" text-anchor="end" fill="#1e1e1e" stroke="#1e1e1e" style="stroke-width:0.1px" transform="rotate(-90 331.52 132.00)">MM170</text>
<text x="339.36" y="132.00" font-size="7.7" text-anchor="end" fill="#1e1e1e" stroke="#1e1e1e" style="stroke-width:0.1px" transform="rotate(-90 339.36 132.00)">NFF</text>
<text x="347.20" y="132.00" font-size="7.7" text-anchor="end" fill="#1e1e1e" stroke="#1e1e1e" style="stroke-width:0.1px" transform="rotate(-90 347.20 132.00)">CO11</text>
<text x="355.04" y="132.00" font-size="7.7" text-anchor="end" fill="#1e1e1e" stroke="#1e1e1e" style="stroke-width:0.1px" transform="rotate(-90 355.04 132.00)">MM127</text>
<text x="362.88" y="132.00" font-size="7.7" text-anchor="end" fill="#1e1e1e" stroke="#1e1e1e" style="stroke-width:0.1px" transform="rotate(-90 362.88 132.00)">MM648</text>
<text x="370.72" y="132.00" font-size="7.7" text-anchor="end" fill="#1e1e1e" stroke="#1e1e1e" style="stroke-width:0.1px" transform="rotate(-90 370.72 132.00)">CO42</text>
<text x="378.56" y="132.00" font-size="7.7" text-anchor="end" fill="#1e1e1e" stroke="#1e1e1e" style="stroke-width:0.1px" transform="rotate(-90 378.56 132.00)">CO03</text>
<text x="386.40" y="132.00" font-size="7.7" text-anchor="end" fill="#1e1e1e" stroke="#1e1e1e" style="stroke-width:0.1px" transform="rotate(-90 386.40 132.00)">CO13</text>
<text x="394.24" y="132.00" font-size="7.7" text-anchor="end" fill="#1e1e1e" stroke="#1e1e1e" style="stroke-width:0.1px" transform="rotate(-90 394.24 132.00)">CO25</text>
<text x="402.08" y="132.00" font-size="7.7" text-anchor="end" fill="#1e1e1e" stroke="#1e1e1e" style="stroke-width:0.1px" transform="rotate(-90 402.08 132.00)">CO38</text>
<text x="409.92" y="132.00" font-size="7.7" text-anchor="end" fill="#1e1e1e" stroke="#1e1e1e" style="stroke-width:0.1px" transform="rotate(-90 409.92 132.00)">QF1619</text>
<text x="417.76" y="132.00" font-size="7.7" text-anchor="end" fill="#1e1e1e" stroke="#1e1e1e" style="stroke-width:0.1px" transform="rotate(-90 417.76 132.00)">QF1597</text>
<text x="425.60" y="132.00" font-size="7.7" text-anchor="end" fill="#1e1e1e" stroke="#1e1e1e" style="stroke-width:0.1px" transform="rotate(-90 425.60 132.00)">QF1610</text>
<text x="433.44" y="132.00" font-size="7.7" text-anchor="end" fill="#1e1e1e" stroke="#1e1e1e" style="stroke-width:0.1px" transform="rotate(-90 433.44 132.00)">HEMa</text>
<text fill="#1e1e1e" stroke="#1e1e1e" transform="translate(29.8 66.2) rotate(-90)" font-size="10" text-anchor="middle" textLength="64" lengthAdjust="spacingAndGlyphs">IC<tspan font-size="9.2" dy="3">50</tspan><tspan dy="-3"> (nmol/L)</tspan></text>
<text fill="#1e1e1e" stroke="#1e1e1e" transform="translate(459.6 77.5) rotate(90)" font-size="11" text-anchor="middle" textLength="84" lengthAdjust="spacingAndGlyphs">Surviving fraction</text>
<rect x="79.60" y="22.80" width="7.20" height="6.00" fill="#dedede" stroke="#8f8f8f" stroke-width="0.6"/>
<text x="89.40" y="29.50" font-size="9.8" fill="#1e1e1e" stroke="#1e1e1e" textLength="11.6" lengthAdjust="spacingAndGlyphs">IC</text>
<text x="101.20" y="32.60" font-size="9.3" fill="#1e1e1e" stroke="#1e1e1e" textLength="11.6" lengthAdjust="spacingAndGlyphs">50</text>
<rect x="79.40" y="36.50" width="7.60" height="6.30" fill="#0c0c0c"/>
<text x="89.60" y="42.80" font-size="9.8" fill="#1e1e1e" stroke="#1e1e1e" textLength="88.4" lengthAdjust="spacingAndGlyphs">Surviving fraction</text>
<text x="0.60" y="11.30" font-size="12.8" font-weight="bold" fill="#111" stroke="#111">A</text>
</g>
<g id="panelB">
<line x1="64.80" y1="224.30" x2="239.90" y2="224.30" stroke="#c4c4c4" stroke-width="0.8"/>
<line x1="64.80" y1="265.30" x2="239.90" y2="265.30" stroke="#c4c4c4" stroke-width="0.8"/>
<rect x="66.25" y="266.20" width="5.90" height="39.70" fill="#bebebe"/>
<rect x="75.03" y="257.40" width="5.90" height="48.50" fill="#bebebe"/>
<rect x="83.81" y="254.70" width="5.90" height="51.20" fill="#bebebe"/>
<rect x="92.59" y="251.90" width="5.90" height="54.00" fill="#bebebe"/>
<rect x="101.37" y="251.90" width="5.90" height="54.00" fill="#bebebe"/>
<rect x="110.15" y="250.80" width="5.90" height="55.10" fill="#bebebe"/>
<rect x="118.93" y="247.30" width="5.90" height="58.60" fill="#bebebe"/>
<rect x="127.71" y="240.80" width="5.90" height="65.10" fill="#bebebe"/>
<rect x="136.49" y="221.90" width="5.90" height="84.00" fill="#bebebe"/>
<rect x="145.27" y="218.90" width="5.90" height="87.00" fill="#bebebe"/>
<rect x="154.05" y="218.20" width="5.90" height="87.70" fill="#bebebe"/>
<rect x="162.83" y="215.40" width="5.90" height="90.50" fill="#bebebe"/>
<rect x="171.61" y="211.30" width="5.90" height="94.60" fill="#bebebe"/>
<rect x="180.39" y="205.00" width="5.90" height="100.90" fill="#bebebe"/>
<rect x="189.17" y="201.30" width="5.90" height="104.60" fill="#bebebe"/>
<rect x="197.95" y="201.30" width="5.90" height="104.60" fill="#bebebe"/>
<rect x="206.73" y="201.30" width="5.90" height="104.60" fill="#bebebe"/>
<rect x="215.51" y="183.40" width="5.90" height="122.50" fill="#bebebe"/>
<rect x="224.29" y="183.40" width="5.90" height="122.50" fill="#bebebe"/>
<rect x="233.07" y="183.40" width="5.90" height="122.50" fill="#bebebe"/>
<line x1="69.20" y1="276.00" x2="69.20" y2="279.40" stroke="#161616" stroke-width="1.25"/>
<line x1="67.70" y1="276.00" x2="70.70" y2="276.00" stroke="#161616" stroke-width="0.9"/>
<rect x="66.30" y="279.40" width="5.80" height="26.50" fill="#0c0c0c"/>
<line x1="77.98" y1="274.00" x2="77.98" y2="279.40" stroke="#161616" stroke-width="1.25"/>
<line x1="76.48" y1="274.00" x2="79.48" y2="274.00" stroke="#161616" stroke-width="0.9"/>
<rect x="75.08" y="279.40" width="5.80" height="26.50" fill="#0c0c0c"/>
<line x1="86.76" y1="267.00" x2="86.76" y2="270.40" stroke="#161616" stroke-width="1.25"/>
<line x1="85.26" y1="267.00" x2="88.26" y2="267.00" stroke="#161616" stroke-width="0.9"/>
<rect x="83.86" y="270.40" width="5.80" height="35.50" fill="#0c0c0c"/>
<line x1="95.54" y1="252.00" x2="95.54" y2="261.80" stroke="#161616" stroke-width="1.25"/>
<line x1="94.04" y1="252.00" x2="97.04" y2="252.00" stroke="#161616" stroke-width="0.9"/>
<rect x="92.64" y="261.80" width="5.80" height="44.10" fill="#0c0c0c"/>
<line x1="104.32" y1="293.70" x2="104.32" y2="296.70" stroke="#161616" stroke-width="1.25"/>
<line x1="102.82" y1="293.70" x2="105.82" y2="293.70" stroke="#161616" stroke-width="0.9"/>
<rect x="101.42" y="296.70" width="5.80" height="9.20" fill="#0c0c0c"/>
<line x1="113.10" y1="283.00" x2="113.10" y2="288.20" stroke="#161616" stroke-width="1.25"/>
<line x1="111.60" y1="283.00" x2="114.60" y2="283.00" stroke="#161616" stroke-width="0.9"/>
<rect x="110.20" y="288.20" width="5.80" height="17.70" fill="#0c0c0c"/>
<line x1="121.88" y1="267.00" x2="121.88" y2="270.40" stroke="#161616" stroke-width="1.25"/>
<line x1="120.38" y1="267.00" x2="123.38" y2="267.00" stroke="#161616" stroke-width="0.9"/>
<rect x="118.98" y="270.40" width="5.80" height="35.50" fill="#0c0c0c"/>
<line x1="130.66" y1="229.00" x2="130.66" y2="240.80" stroke="#161616" stroke-width="1.25"/>
<line x1="129.16" y1="229.00" x2="132.16" y2="229.00" stroke="#161616" stroke-width="0.9"/>
<rect x="127.76" y="240.80" width="5.80" height="65.10" fill="#0c0c0c"/>
<line x1="139.44" y1="245.00" x2="139.44" y2="253.00" stroke="#161616" stroke-width="1.25"/>
<line x1="137.94" y1="245.00" x2="140.94" y2="245.00" stroke="#161616" stroke-width="0.9"/>
<rect x="136.54" y="253.00" width="5.80" height="52.90" fill="#0c0c0c"/>
<line x1="148.22" y1="222.00" x2="148.22" y2="235.70" stroke="#161616" stroke-width="1.25"/>
<line x1="146.72" y1="222.00" x2="149.72" y2="222.00" stroke="#161616" stroke-width="0.9"/>
<rect x="145.32" y="235.70" width="5.80" height="70.20" fill="#0c0c0c"/>
<line x1="157.00" y1="250.00" x2="157.00" y2="261.80" stroke="#161616" stroke-width="1.25"/>
<line x1="155.50" y1="250.00" x2="158.50" y2="250.00" stroke="#161616" stroke-width="0.9"/>
<rect x="154.10" y="261.80" width="5.80" height="44.10" fill="#0c0c0c"/>
<line x1="165.78" y1="229.30" x2="165.78" y2="239.20" stroke="#161616" stroke-width="1.25"/>
<line x1="164.28" y1="229.30" x2="167.28" y2="229.30" stroke="#161616" stroke-width="0.9"/>
<rect x="162.88" y="239.20" width="5.80" height="66.70" fill="#0c0c0c"/>
<line x1="174.56" y1="232.70" x2="174.56" y2="241.30" stroke="#161616" stroke-width="1.25"/>
<line x1="173.06" y1="232.70" x2="176.06" y2="232.70" stroke="#161616" stroke-width="0.9"/>
<rect x="171.66" y="241.30" width="5.80" height="64.60" fill="#0c0c0c"/>
<line x1="183.34" y1="234.40" x2="183.34" y2="241.30" stroke="#161616" stroke-width="1.25"/>
<line x1="181.84" y1="234.40" x2="184.84" y2="234.40" stroke="#161616" stroke-width="0.9"/>
<rect x="180.44" y="241.30" width="5.80" height="64.60" fill="#0c0c0c"/>
<line x1="192.12" y1="217.30" x2="192.12" y2="223.70" stroke="#161616" stroke-width="1.25"/>
<line x1="190.62" y1="217.30" x2="193.62" y2="217.30" stroke="#161616" stroke-width="0.9"/>
<rect x="189.22" y="223.70" width="5.80" height="82.20" fill="#0c0c0c"/>
<line x1="200.90" y1="242.00" x2="200.90" y2="248.20" stroke="#161616" stroke-width="1.25"/>
<line x1="199.40" y1="242.00" x2="202.40" y2="242.00" stroke="#161616" stroke-width="0.9"/>
<rect x="198.00" y="248.20" width="5.80" height="57.70" fill="#0c0c0c"/>
<line x1="209.68" y1="229.70" x2="209.68" y2="234.40" stroke="#161616" stroke-width="1.25"/>
<line x1="208.18" y1="229.70" x2="211.18" y2="229.70" stroke="#161616" stroke-width="0.9"/>
<rect x="206.78" y="234.40" width="5.80" height="71.50" fill="#0c0c0c"/>
<line x1="218.46" y1="210.00" x2="218.46" y2="218.40" stroke="#161616" stroke-width="1.25"/>
<line x1="216.96" y1="210.00" x2="219.96" y2="210.00" stroke="#161616" stroke-width="0.9"/>
<rect x="215.56" y="218.40" width="5.80" height="87.50" fill="#0c0c0c"/>
<line x1="227.24" y1="203.20" x2="227.24" y2="213.10" stroke="#161616" stroke-width="1.25"/>
<line x1="225.74" y1="203.20" x2="228.74" y2="203.20" stroke="#161616" stroke-width="0.9"/>
<rect x="224.34" y="213.10" width="5.80" height="92.80" fill="#0c0c0c"/>
<rect x="233.12" y="195.80" width="5.80" height="110.10" fill="#0c0c0c"/>
<rect x="64.8" y="183.7" width="175.10" height="122.20" fill="none" stroke="#1e1e1e" stroke-width="1.5"/>
<line x1="64.81" y1="305.90" x2="64.81" y2="308.10" stroke="#1e1e1e" stroke-width="0.8"/>
<line x1="73.59" y1="305.90" x2="73.59" y2="308.10" stroke="#1e1e1e" stroke-width="0.8"/>
<line x1="82.37" y1="305.90" x2="82.37" y2="308.10" stroke="#1e1e1e" stroke-width="0.8"/>
<line x1="91.15" y1="305.90" x2="91.15" y2="308.10" stroke="#1e1e1e" stroke-width="0.8"/>
<line x1="99.93" y1="305.90" x2="99.93" y2="308.10" stroke="#1e1e1e" stroke-width="0.8"/>
<line x1="108.71" y1="305.90" x2="108.71" y2="308.10" stroke="#1e1e1e" stroke-width="0.8"/>
<line x1="117.49" y1="305.90" x2="117.49" y2="308.10" stroke="#1e1e1e" stroke-width="0.8"/>
<line x1="126.27" y1="305.90" x2="126.27" y2="308.10" stroke="#1e1e1e" stroke-width="0.8"/>
<line x1="135.05" y1="305.90" x2="135.05" y2="308.10" stroke="#1e1e1e" stroke-width="0.8"/>
<line x1="143.83" y1="305.90" x2="143.83" y2="308.10" stroke="#1e1e1e" stroke-width="0.8"/>
<line x1="152.61" y1="305.90" x2="152.61" y2="308.10" stroke="#1e1e1e" stroke-width="0.8"/>
<line x1="161.39" y1="305.90" x2="161.39" y2="308.10" stroke="#1e1e1e" stroke-width="0.8"/>
<line x1="170.17" y1="305.90" x2="170.17" y2="308.10" stroke="#1e1e1e" stroke-width="0.8"/>
<line x1="178.95" y1="305.90" x2="178.95" y2="308.10" stroke="#1e1e1e" stroke-width="0.8"/>
<line x1="187.73" y1="305.90" x2="187.73" y2="308.10" stroke="#1e1e1e" stroke-width="0.8"/>
<line x1="196.51" y1="305.90" x2="196.51" y2="308.10" stroke="#1e1e1e" stroke-width="0.8"/>
<line x1="205.29" y1="305.90" x2="205.29" y2="308.10" stroke="#1e1e1e" stroke-width="0.8"/>
<line x1="214.07" y1="305.90" x2="214.07" y2="308.10" stroke="#1e1e1e" stroke-width="0.8"/>
<line x1="222.85" y1="305.90" x2="222.85" y2="308.10" stroke="#1e1e1e" stroke-width="0.8"/>
<line x1="231.63" y1="305.90" x2="231.63" y2="308.10" stroke="#1e1e1e" stroke-width="0.8"/>
<line x1="240.41" y1="305.90" x2="240.41" y2="308.10" stroke="#1e1e1e" stroke-width="0.8"/>
<line x1="63.20" y1="293.64" x2="64.80" y2="293.64" stroke="#1e1e1e" stroke-width="0.5"/>
<line x1="63.20" y1="286.47" x2="64.80" y2="286.47" stroke="#1e1e1e" stroke-width="0.5"/>
<line x1="63.20" y1="281.38" x2="64.80" y2="281.38" stroke="#1e1e1e" stroke-width="0.5"/>
<line x1="63.20" y1="277.43" x2="64.80" y2="277.43" stroke="#1e1e1e" stroke-width="0.5"/>
<line x1="63.20" y1="274.20" x2="64.80" y2="274.20" stroke="#1e1e1e" stroke-width="0.5"/>
<line x1="63.20" y1="271.48" x2="64.80" y2="271.48" stroke="#1e1e1e" stroke-width="0.5"/>
<line x1="63.20" y1="269.11" x2="64.80" y2="269.11" stroke="#1e1e1e" stroke-width="0.5"/>
<line x1="63.20" y1="267.03" x2="64.80" y2="267.03" stroke="#1e1e1e" stroke-width="0.5"/>
<line x1="63.20" y1="252.90" x2="64.80" y2="252.90" stroke="#1e1e1e" stroke-width="0.5"/>
<line x1="63.20" y1="245.73" x2="64.80" y2="245.73" stroke="#1e1e1e" stroke-width="0.5"/>
<line x1="63.20" y1="240.64" x2="64.80" y2="240.64" stroke="#1e1e1e" stroke-width="0.5"/>
<line x1="63.20" y1="236.70" x2="64.80" y2="236.70" stroke="#1e1e1e" stroke-width="0.5"/>
<line x1="63.20" y1="233.47" x2="64.80" y2="233.47" stroke="#1e1e1e" stroke-width="0.5"/>
<line x1="63.20" y1="230.74" x2="64.80" y2="230.74" stroke="#1e1e1e" stroke-width="0.5"/>
<line x1="63.20" y1="228.38" x2="64.80" y2="228.38" stroke="#1e1e1e" stroke-width="0.5"/>
<line x1="63.20" y1="226.30" x2="64.80" y2="226.30" stroke="#1e1e1e" stroke-width="0.5"/>
<line x1="63.20" y1="212.17" x2="64.80" y2="212.17" stroke="#1e1e1e" stroke-width="0.5"/>
<line x1="63.20" y1="205.00" x2="64.80" y2="205.00" stroke="#1e1e1e" stroke-width="0.5"/>
<line x1="63.20" y1="199.91" x2="64.80" y2="199.91" stroke="#1e1e1e" stroke-width="0.5"/>
<line x1="63.20" y1="195.96" x2="64.80" y2="195.96" stroke="#1e1e1e" stroke-width="0.5"/>
<line x1="63.20" y1="192.74" x2="64.80" y2="192.74" stroke="#1e1e1e" stroke-width="0.5"/>
<line x1="63.20" y1="190.01" x2="64.80" y2="190.01" stroke="#1e1e1e" stroke-width="0.5"/>
<line x1="63.20" y1="187.65" x2="64.80" y2="187.65" stroke="#1e1e1e" stroke-width="0.5"/>
<line x1="63.20" y1="185.56" x2="64.80" y2="185.56" stroke="#1e1e1e" stroke-width="0.5"/>
<line x1="61.80" y1="305.90" x2="64.80" y2="305.90" stroke="#1e1e1e" stroke-width="0.9"/>
<text x="61.00" y="309.40" font-size="10.2" text-anchor="end" fill="#1e1e1e" stroke="#1e1e1e" textLength="10.6" lengthAdjust="spacingAndGlyphs">10</text>
<line x1="61.80" y1="265.17" x2="64.80" y2="265.17" stroke="#1e1e1e" stroke-width="0.9"/>
<text x="61.00" y="268.67" font-size="10.2" text-anchor="end" fill="#1e1e1e" stroke="#1e1e1e" textLength="15.6" lengthAdjust="spacingAndGlyphs">100</text>
<line x1="61.80" y1="224.43" x2="64.80" y2="224.43" stroke="#1e1e1e" stroke-width="0.9"/>
<text x="61.00" y="227.93" font-size="10.2" text-anchor="end" fill="#1e1e1e" stroke="#1e1e1e" textLength="24.2" lengthAdjust="spacingAndGlyphs">1,000</text>
<line x1="61.80" y1="183.70" x2="64.80" y2="183.70" stroke="#1e1e1e" stroke-width="0.9"/>
<text x="61.00" y="187.20" font-size="10.2" text-anchor="end" fill="#1e1e1e" stroke="#1e1e1e" textLength="29.8" lengthAdjust="spacingAndGlyphs">10,000</text>
<line x1="239.90" y1="305.90" x2="242.50" y2="305.90" stroke="#1e1e1e" stroke-width="0.9"/>
<text x="243.10" y="309.40" font-size="10.0" fill="#1e1e1e" stroke="#1e1e1e" textLength="6.0" lengthAdjust="spacingAndGlyphs">0</text>
<line x1="239.90" y1="288.44" x2="242.50" y2="288.44" stroke="#1e1e1e" stroke-width="0.9"/>
<text x="243.10" y="291.94" font-size="10.0" fill="#1e1e1e" stroke="#1e1e1e" textLength="11.4" lengthAdjust="spacingAndGlyphs">10</text>
<line x1="239.90" y1="270.99" x2="242.50" y2="270.99" stroke="#1e1e1e" stroke-width="0.9"/>
<text x="243.10" y="274.49" font-size="10.0" fill="#1e1e1e" stroke="#1e1e1e" textLength="11.4" lengthAdjust="spacingAndGlyphs">20</text>
<line x1="239.90" y1="253.53" x2="242.50" y2="253.53" stroke="#1e1e1e" stroke-width="0.9"/>
<text x="243.10" y="257.03" font-size="10.0" fill="#1e1e1e" stroke="#1e1e1e" textLength="11.4" lengthAdjust="spacingAndGlyphs">30</text>
<line x1="239.90" y1="236.07" x2="242.50" y2="236.07" stroke="#1e1e1e" stroke-width="0.9"/>
<text x="243.10" y="239.57" font-size="10.0" fill="#1e1e1e" stroke="#1e1e1e" textLength="11.4" lengthAdjust="spacingAndGlyphs">40</text>
<line x1="239.90" y1="218.61" x2="242.50" y2="218.61" stroke="#1e1e1e" stroke-width="0.9"/>
<text x="243.10" y="222.11" font-size="10.0" fill="#1e1e1e" stroke="#1e1e1e" textLength="11.4" lengthAdjust="spacingAndGlyphs">50</text>
<line x1="239.90" y1="201.16" x2="242.50" y2="201.16" stroke="#1e1e1e" stroke-width="0.9"/>
<text x="243.10" y="204.66" font-size="10.0" fill="#1e1e1e" stroke="#1e1e1e" textLength="11.4" lengthAdjust="spacingAndGlyphs">60</text>
<line x1="239.90" y1="183.70" x2="242.50" y2="183.70" stroke="#1e1e1e" stroke-width="0.9"/>
<text x="243.10" y="187.20" font-size="10.0" fill="#1e1e1e" stroke="#1e1e1e" textLength="11.4" lengthAdjust="spacingAndGlyphs">70</text>
<text x="71.80" y="308.20" font-size="7.4" text-anchor="end" fill="#1e1e1e" stroke="#1e1e1e" transform="rotate(-90 71.80 308.20)" textLength="11.7" lengthAdjust="spacingAndGlyphs">D20</text>
<text x="80.58" y="308.20" font-size="7.4" text-anchor="end" fill="#1e1e1e" stroke="#1e1e1e" transform="rotate(-90 80.58 308.20)" textLength="15.3" lengthAdjust="spacingAndGlyphs">C045</text>
<text x="89.36" y="308.20" font-size="7.4" text-anchor="end" fill="#1e1e1e" stroke="#1e1e1e" transform="rotate(-90 89.36 308.20)" textLength="15.3" lengthAdjust="spacingAndGlyphs">C002</text>
<text x="98.14" y="308.20" font-size="7.4" text-anchor="end" fill="#1e1e1e" stroke="#1e1e1e" transform="rotate(-90 98.14 308.20)" textLength="11.4" lengthAdjust="spacingAndGlyphs">A15</text>
<text x="106.92" y="308.20" font-size="7.4" text-anchor="end" fill="#1e1e1e" stroke="#1e1e1e" transform="rotate(-90 106.92 308.20)" textLength="21.3" lengthAdjust="spacingAndGlyphs">MM96L</text>
<text x="115.70" y="308.20" font-size="7.4" text-anchor="end" fill="#1e1e1e" stroke="#1e1e1e" transform="rotate(-90 115.70 308.20)" textLength="11.7" lengthAdjust="spacingAndGlyphs">D04</text>
<text x="124.48" y="308.20" font-size="7.4" text-anchor="end" fill="#1e1e1e" stroke="#1e1e1e" transform="rotate(-90 124.48 308.20)" textLength="19.2" lengthAdjust="spacingAndGlyphs">HT144</text>
<text x="133.26" y="308.20" font-size="7.4" text-anchor="end" fill="#1e1e1e" stroke="#1e1e1e" transform="rotate(-90 133.26 308.20)" textLength="15.3" lengthAdjust="spacingAndGlyphs">C052</text>
<text x="142.04" y="308.20" font-size="7.4" text-anchor="end" fill="#1e1e1e" stroke="#1e1e1e" transform="rotate(-90 142.04 308.20)" textLength="18.5" lengthAdjust="spacingAndGlyphs">A2058</text>
<text x="150.82" y="308.20" font-size="7.4" text-anchor="end" fill="#1e1e1e" stroke="#1e1e1e" transform="rotate(-90 150.82 308.20)" textLength="15.3" lengthAdjust="spacingAndGlyphs">C054</text>
<text x="159.60" y="308.20" font-size="7.4" text-anchor="end" fill="#1e1e1e" stroke="#1e1e1e" transform="rotate(-90 159.60 308.20)" textLength="28.8" lengthAdjust="spacingAndGlyphs">SKMEL13</text>
<text x="168.38" y="308.20" font-size="7.4" text-anchor="end" fill="#1e1e1e" stroke="#1e1e1e" transform="rotate(-90 168.38 308.20)" textLength="21.3" lengthAdjust="spacingAndGlyphs">MM370</text>
<text x="177.16" y="308.20" font-size="7.4" text-anchor="end" fill="#1e1e1e" stroke="#1e1e1e" transform="rotate(-90 177.16 308.20)" textLength="21.3" lengthAdjust="spacingAndGlyphs">MM603</text>
<text x="185.94" y="308.20" font-size="7.4" text-anchor="end" fill="#1e1e1e" stroke="#1e1e1e" transform="rotate(-90 185.94 308.20)" textLength="11.7" lengthAdjust="spacingAndGlyphs">D28</text>
<text x="194.72" y="308.20" font-size="7.4" text-anchor="end" fill="#1e1e1e" stroke="#1e1e1e" transform="rotate(-90 194.72 308.20)" textLength="7.8" lengthAdjust="spacingAndGlyphs">BL</text>
<text x="203.50" y="308.20" font-size="7.4" text-anchor="end" fill="#1e1e1e" stroke="#1e1e1e" transform="rotate(-90 203.50 308.20)" textLength="21.3" lengthAdjust="spacingAndGlyphs">MM415</text>
<text x="212.28" y="308.20" font-size="7.4" text-anchor="end" fill="#1e1e1e" stroke="#1e1e1e" transform="rotate(-90 212.28 308.20)" textLength="21.3" lengthAdjust="spacingAndGlyphs">MM329</text>
<text x="221.06" y="308.20" font-size="7.4" text-anchor="end" fill="#1e1e1e" stroke="#1e1e1e" transform="rotate(-90 221.06 308.20)" textLength="15.3" lengthAdjust="spacingAndGlyphs">C013</text>
<text x="229.84" y="308.20" font-size="7.4" text-anchor="end" fill="#1e1e1e" stroke="#1e1e1e" transform="rotate(-90 229.84 308.20)" textLength="28.8" lengthAdjust="spacingAndGlyphs">SKMEL28</text>
<text x="238.62" y="308.20" font-size="7.4" text-anchor="end" fill="#1e1e1e" stroke="#1e1e1e" transform="rotate(-90 238.62 308.20)" textLength="11.7" lengthAdjust="spacingAndGlyphs">D25</text>
<text fill="#1e1e1e" stroke="#1e1e1e" transform="translate(26.0 237.8) rotate(-90)" font-size="10.3" text-anchor="middle" textLength="65" lengthAdjust="spacingAndGlyphs">IC<tspan font-size="9.4" dy="3">50</tspan><tspan dy="-3"> (nmol/L)</tspan></text>
<text fill="#1e1e1e" stroke="#1e1e1e" transform="translate(259.0 246.5) rotate(90)" font-size="11" text-anchor="middle" textLength="84" lengthAdjust="spacingAndGlyphs">Surviving fraction</text>
<rect x="68.40" y="188.80" width="6.00" height="7.00" fill="#bdbdbd"/>
<text fill="#1e1e1e" stroke="#1e1e1e" x="78.0" y="195.9" font-size="9.2">IC<tspan font-size="7.6" dy="2.4">50</tspan></text>
<rect x="68.40" y="202.80" width="6.00" height="6.90" fill="#0c0c0c"/>
<text x="78.00" y="210.80" font-size="9.2" fill="#1e1e1e" stroke="#1e1e1e" textLength="69.3" lengthAdjust="spacingAndGlyphs">Surviving fraction</text>
<text x="1.20" y="188.30" font-size="12.8" font-weight="bold" fill="#111" stroke="#111">B</text>
</g>
<g id="panelC">
<polyline points="72.31,461.25 78.52,461.25 87.83,464.25 100.25,464.25 106.47,464.25 121.99,463.25 128.20,463.75 143.72,460.75 156.14,457.50 168.56,452.50" fill="none" stroke="#141414" stroke-width="1.5" stroke-linejoin="round"/>
<circle cx="72.31" cy="461.25" r="1.8" fill="#141414"/>
<circle cx="78.52" cy="461.25" r="1.8" fill="#141414"/>
<circle cx="87.83" cy="464.25" r="1.8" fill="#141414"/>
<circle cx="100.25" cy="464.25" r="1.8" fill="#141414"/>
<circle cx="106.47" cy="464.25" r="1.8" fill="#141414"/>
<circle cx="121.99" cy="463.25" r="1.8" fill="#141414"/>
<circle cx="128.20" cy="463.75" r="1.8" fill="#141414"/>
<circle cx="143.72" cy="460.75" r="1.8" fill="#141414"/>
<circle cx="156.14" cy="457.50" r="1.8" fill="#141414"/>
<circle cx="168.56" cy="452.50" r="1.8" fill="#141414"/>
<polyline points="72.31,461.25 78.52,460.50 87.83,458.75 100.25,452.50 106.47,449.50 121.99,444.50 128.20,439.25 143.72,428.75 156.14,417.50 168.56,405.75" fill="none" stroke="#a9a9a9" stroke-width="1.5" stroke-linejoin="round"/>
<rect x="70.66" y="459.60" width="3.30" height="3.30" fill="#a9a9a9"/>
<rect x="76.87" y="458.85" width="3.30" height="3.30" fill="#a9a9a9"/>
<rect x="86.18" y="457.10" width="3.30" height="3.30" fill="#a9a9a9"/>
<rect x="98.60" y="450.85" width="3.30" height="3.30" fill="#a9a9a9"/>
<rect x="104.81" y="447.85" width="3.30" height="3.30" fill="#a9a9a9"/>
<rect x="120.34" y="442.85" width="3.30" height="3.30" fill="#a9a9a9"/>
<rect x="126.55" y="437.60" width="3.30" height="3.30" fill="#a9a9a9"/>
<rect x="142.07" y="427.10" width="3.30" height="3.30" fill="#a9a9a9"/>
<rect x="154.49" y="415.85" width="3.30" height="3.30" fill="#a9a9a9"/>
<rect x="166.91" y="404.10" width="3.30" height="3.30" fill="#a9a9a9"/>
<line x1="72.31" y1="458.75" x2="72.31" y2="465.00" stroke="#1c1c1c" stroke-width="1.3"/>
<line x1="78.52" y1="457.50" x2="78.52" y2="463.75" stroke="#1c1c1c" stroke-width="1.3"/>
<line x1="87.83" y1="455.75" x2="87.83" y2="461.25" stroke="#1c1c1c" stroke-width="1.3"/>
<line x1="100.25" y1="448.00" x2="100.25" y2="456.25" stroke="#1c1c1c" stroke-width="1.3"/>
<line x1="106.47" y1="444.50" x2="106.47" y2="454.50" stroke="#1c1c1c" stroke-width="1.3"/>
<line x1="121.99" y1="439.50" x2="121.99" y2="449.50" stroke="#1c1c1c" stroke-width="1.3"/>
<line x1="128.20" y1="430.00" x2="128.20" y2="448.75" stroke="#1c1c1c" stroke-width="1.3"/>
<line x1="143.72" y1="420.00" x2="143.72" y2="438.00" stroke="#1c1c1c" stroke-width="1.3"/>
<line x1="156.14" y1="405.00" x2="156.14" y2="430.00" stroke="#1c1c1c" stroke-width="1.3"/>
<line x1="168.56" y1="395.00" x2="168.56" y2="417.50" stroke="#1c1c1c" stroke-width="1.3"/>
<line x1="87.83" y1="462.50" x2="87.83" y2="465.75" stroke="#161616" stroke-width="1.3"/>
<line x1="100.25" y1="462.50" x2="100.25" y2="465.75" stroke="#161616" stroke-width="1.3"/>
<line x1="106.47" y1="462.50" x2="106.47" y2="465.75" stroke="#161616" stroke-width="1.3"/>
<line x1="121.99" y1="461.25" x2="121.99" y2="465.00" stroke="#161616" stroke-width="1.3"/>
<line x1="128.20" y1="462.00" x2="128.20" y2="465.50" stroke="#161616" stroke-width="1.3"/>
<line x1="143.72" y1="457.50" x2="143.72" y2="463.75" stroke="#161616" stroke-width="1.3"/>
<line x1="156.14" y1="453.75" x2="156.14" y2="461.25" stroke="#161616" stroke-width="1.3"/>
<line x1="168.56" y1="445.00" x2="168.56" y2="458.75" stroke="#161616" stroke-width="1.3"/>
<line x1="66.10" y1="392.00" x2="66.10" y2="469.60" stroke="#262626" stroke-width="1.5"/>
<line x1="65.40" y1="469.00" x2="175.27" y2="469.00" stroke="#262626" stroke-width="1.5"/>
<line x1="64.30" y1="469.00" x2="66.10" y2="469.00" stroke="#1e1e1e" stroke-width="0.9"/>
<text x="61.70" y="472.20" font-size="10.6" text-anchor="end" fill="#1e1e1e" stroke="#1e1e1e" textLength="5.5" lengthAdjust="spacingAndGlyphs">0</text>
<line x1="64.30" y1="454.06" x2="66.10" y2="454.06" stroke="#1e1e1e" stroke-width="0.9"/>
<text x="61.70" y="457.26" font-size="10.6" text-anchor="end" fill="#1e1e1e" stroke="#1e1e1e" textLength="16.4" lengthAdjust="spacingAndGlyphs">200</text>
<line x1="64.30" y1="439.12" x2="66.10" y2="439.12" stroke="#1e1e1e" stroke-width="0.9"/>
<text x="61.70" y="442.32" font-size="10.6" text-anchor="end" fill="#1e1e1e" stroke="#1e1e1e" textLength="16.4" lengthAdjust="spacingAndGlyphs">400</text>
<line x1="64.30" y1="424.18" x2="66.10" y2="424.18" stroke="#1e1e1e" stroke-width="0.9"/>
<text x="61.70" y="427.38" font-size="10.6" text-anchor="end" fill="#1e1e1e" stroke="#1e1e1e" textLength="16.4" lengthAdjust="spacingAndGlyphs">600</text>
<line x1="64.30" y1="409.24" x2="66.10" y2="409.24" stroke="#1e1e1e" stroke-width="0.9"/>
<text x="61.70" y="412.44" font-size="10.6" text-anchor="end" fill="#1e1e1e" stroke="#1e1e1e" textLength="16.4" lengthAdjust="spacingAndGlyphs">800</text>
<line x1="64.30" y1="394.30" x2="66.10" y2="394.30" stroke="#1e1e1e" stroke-width="0.9"/>
<text x="61.70" y="397.50" font-size="10.6" text-anchor="end" fill="#1e1e1e" stroke="#1e1e1e" textLength="24.3" lengthAdjust="spacingAndGlyphs">1,000</text>
<line x1="66.10" y1="469.00" x2="66.10" y2="470.60" stroke="#1e1e1e" stroke-width="0.9"/>
<text x="66.10" y="479.80" font-size="10.6" text-anchor="middle" fill="#1e1e1e" stroke="#1e1e1e" textLength="5.7" lengthAdjust="spacingAndGlyphs">5</text>
<line x1="81.62" y1="469.00" x2="81.62" y2="470.60" stroke="#1e1e1e" stroke-width="0.9"/>
<text x="81.62" y="479.80" font-size="10.6" text-anchor="middle" fill="#1e1e1e" stroke="#1e1e1e" textLength="11.4" lengthAdjust="spacingAndGlyphs">10</text>
<line x1="97.15" y1="469.00" x2="97.15" y2="470.60" stroke="#1e1e1e" stroke-width="0.9"/>
<text x="97.15" y="479.80" font-size="10.6" text-anchor="middle" fill="#1e1e1e" stroke="#1e1e1e" textLength="11.4" lengthAdjust="spacingAndGlyphs">15</text>
<line x1="112.67" y1="469.00" x2="112.67" y2="470.60" stroke="#1e1e1e" stroke-width="0.9"/>
<text x="112.67" y="479.80" font-size="10.6" text-anchor="middle" fill="#1e1e1e" stroke="#1e1e1e" textLength="11.4" lengthAdjust="spacingAndGlyphs">20</text>
<line x1="128.20" y1="469.00" x2="128.20" y2="470.60" stroke="#1e1e1e" stroke-width="0.9"/>
<text x="128.20" y="479.80" font-size="10.6" text-anchor="middle" fill="#1e1e1e" stroke="#1e1e1e" textLength="11.4" lengthAdjust="spacingAndGlyphs">25</text>
<line x1="143.72" y1="469.00" x2="143.72" y2="470.60" stroke="#1e1e1e" stroke-width="0.9"/>
<text x="143.72" y="479.80" font-size="10.6" text-anchor="middle" fill="#1e1e1e" stroke="#1e1e1e" textLength="11.4" lengthAdjust="spacingAndGlyphs">30</text>
<line x1="159.25" y1="469.00" x2="159.25" y2="470.60" stroke="#1e1e1e" stroke-width="0.9"/>
<text x="159.25" y="479.80" font-size="10.6" text-anchor="middle" fill="#1e1e1e" stroke="#1e1e1e" textLength="11.4" lengthAdjust="spacingAndGlyphs">35</text>
<line x1="174.77" y1="469.00" x2="174.77" y2="470.60" stroke="#1e1e1e" stroke-width="0.9"/>
<text x="174.77" y="479.80" font-size="10.6" text-anchor="middle" fill="#1e1e1e" stroke="#1e1e1e" textLength="11.4" lengthAdjust="spacingAndGlyphs">40</text>
<text x="79.80" y="394.80" font-size="11.2" font-weight="bold" fill="#111" stroke="#111" textLength="19.6" lengthAdjust="spacingAndGlyphs">D20</text>
<path d="M68.45 417.50 L73.05 417.50 L70.75 428.80 Z" fill="#fff" stroke="#262626" stroke-width="1.0" stroke-linejoin="miter"/>
<path d="M123.95 410.00 L128.55 410.00 L126.25 421.30 Z" fill="#fff" stroke="#262626" stroke-width="1.0" stroke-linejoin="miter"/>
<line x1="225.00" y1="453.25" x2="225.00" y2="456.75" stroke="#1c1c1c" stroke-width="1.15"/>
<line x1="223.70" y1="453.25" x2="226.30" y2="453.25" stroke="#1c1c1c" stroke-width="0.8"/>
<line x1="223.70" y1="456.75" x2="226.30" y2="456.75" stroke="#1c1c1c" stroke-width="0.8"/>
<line x1="236.25" y1="448.75" x2="236.25" y2="454.25" stroke="#1c1c1c" stroke-width="1.15"/>
<line x1="234.95" y1="448.75" x2="237.55" y2="448.75" stroke="#1c1c1c" stroke-width="0.8"/>
<line x1="234.95" y1="454.25" x2="237.55" y2="454.25" stroke="#1c1c1c" stroke-width="0.8"/>
<line x1="248.25" y1="440.75" x2="248.25" y2="447.00" stroke="#1c1c1c" stroke-width="1.15"/>
<line x1="246.95" y1="440.75" x2="249.55" y2="440.75" stroke="#1c1c1c" stroke-width="0.8"/>
<line x1="246.95" y1="447.00" x2="249.55" y2="447.00" stroke="#1c1c1c" stroke-width="0.8"/>
<line x1="267.00" y1="426.25" x2="267.00" y2="438.25" stroke="#1c1c1c" stroke-width="1.15"/>
<line x1="265.70" y1="426.25" x2="268.30" y2="426.25" stroke="#1c1c1c" stroke-width="0.8"/>
<line x1="265.70" y1="438.25" x2="268.30" y2="438.25" stroke="#1c1c1c" stroke-width="0.8"/>
<line x1="279.25" y1="410.50" x2="279.25" y2="430.00" stroke="#1c1c1c" stroke-width="1.15"/>
<line x1="277.95" y1="410.50" x2="280.55" y2="410.50" stroke="#1c1c1c" stroke-width="0.8"/>
<line x1="277.95" y1="430.00" x2="280.55" y2="430.00" stroke="#1c1c1c" stroke-width="0.8"/>
<line x1="290.50" y1="400.75" x2="290.50" y2="420.00" stroke="#1c1c1c" stroke-width="1.15"/>
<line x1="289.20" y1="400.75" x2="291.80" y2="400.75" stroke="#1c1c1c" stroke-width="0.8"/>
<line x1="289.20" y1="420.00" x2="291.80" y2="420.00" stroke="#1c1c1c" stroke-width="0.8"/>
<line x1="317.50" y1="395.50" x2="317.50" y2="411.25" stroke="#1c1c1c" stroke-width="1.15"/>
<line x1="316.20" y1="395.50" x2="318.80" y2="395.50" stroke="#1c1c1c" stroke-width="0.8"/>
<line x1="316.20" y1="411.25" x2="318.80" y2="411.25" stroke="#1c1c1c" stroke-width="0.8"/>
<line x1="225.00" y1="457.25" x2="225.00" y2="461.25" stroke="#161616" stroke-width="1.15"/>
<line x1="223.70" y1="457.25" x2="226.30" y2="457.25" stroke="#161616" stroke-width="0.8"/>
<line x1="223.70" y1="461.25" x2="226.30" y2="461.25" stroke="#161616" stroke-width="0.8"/>
<line x1="236.25" y1="454.50" x2="236.25" y2="459.50" stroke="#161616" stroke-width="1.15"/>
<line x1="234.95" y1="454.50" x2="237.55" y2="454.50" stroke="#161616" stroke-width="0.8"/>
<line x1="234.95" y1="459.50" x2="237.55" y2="459.50" stroke="#161616" stroke-width="0.8"/>
<line x1="248.25" y1="455.00" x2="248.25" y2="460.00" stroke="#161616" stroke-width="1.15"/>
<line x1="246.95" y1="455.00" x2="249.55" y2="455.00" stroke="#161616" stroke-width="0.8"/>
<line x1="246.95" y1="460.00" x2="249.55" y2="460.00" stroke="#161616" stroke-width="0.8"/>
<line x1="267.00" y1="452.50" x2="267.00" y2="457.50" stroke="#161616" stroke-width="1.15"/>
<line x1="265.70" y1="452.50" x2="268.30" y2="452.50" stroke="#161616" stroke-width="0.8"/>
<line x1="265.70" y1="457.50" x2="268.30" y2="457.50" stroke="#161616" stroke-width="0.8"/>
<line x1="279.25" y1="452.50" x2="279.25" y2="457.50" stroke="#161616" stroke-width="1.15"/>
<line x1="277.95" y1="452.50" x2="280.55" y2="452.50" stroke="#161616" stroke-width="0.8"/>
<line x1="277.95" y1="457.50" x2="280.55" y2="457.50" stroke="#161616" stroke-width="0.8"/>
<line x1="290.50" y1="451.25" x2="290.50" y2="456.75" stroke="#161616" stroke-width="1.15"/>
<line x1="289.20" y1="451.25" x2="291.80" y2="451.25" stroke="#161616" stroke-width="0.8"/>
<line x1="289.20" y1="456.75" x2="291.80" y2="456.75" stroke="#161616" stroke-width="0.8"/>
<line x1="317.50" y1="452.00" x2="317.50" y2="458.00" stroke="#161616" stroke-width="1.15"/>
<line x1="316.20" y1="452.00" x2="318.80" y2="452.00" stroke="#161616" stroke-width="0.8"/>
<line x1="316.20" y1="458.00" x2="318.80" y2="458.00" stroke="#161616" stroke-width="0.8"/>
<polyline points="206.00,460.00 225.00,459.25 236.25,457.00 248.25,457.50 267.00,455.00 279.25,455.00 290.50,454.00 317.50,455.00" fill="none" stroke="#141414" stroke-width="1.5" stroke-linejoin="round"/>
<circle cx="206.00" cy="460.00" r="2.0" fill="#141414"/>
<circle cx="225.00" cy="459.25" r="2.0" fill="#141414"/>
<circle cx="236.25" cy="457.00" r="2.0" fill="#141414"/>
<circle cx="248.25" cy="457.50" r="2.0" fill="#141414"/>
<circle cx="267.00" cy="455.00" r="2.0" fill="#141414"/>
<circle cx="279.25" cy="455.00" r="2.0" fill="#141414"/>
<circle cx="290.50" cy="454.00" r="2.0" fill="#141414"/>
<circle cx="317.50" cy="455.00" r="2.0" fill="#141414"/>
<polyline points="206.00,460.00 225.00,455.00 236.25,451.75 248.25,443.75 267.00,432.50 279.25,420.00 290.50,410.50 317.50,403.75" fill="none" stroke="#a9a9a9" stroke-width="1.5" stroke-linejoin="round"/>
<rect x="204.10" y="458.10" width="3.80" height="3.80" fill="#a9a9a9"/>
<rect x="223.10" y="453.10" width="3.80" height="3.80" fill="#a9a9a9"/>
<rect x="234.35" y="449.85" width="3.80" height="3.80" fill="#a9a9a9"/>
<rect x="246.35" y="441.85" width="3.80" height="3.80" fill="#a9a9a9"/>
<rect x="265.10" y="430.60" width="3.80" height="3.80" fill="#a9a9a9"/>
<rect x="277.35" y="418.10" width="3.80" height="3.80" fill="#a9a9a9"/>
<rect x="288.60" y="408.60" width="3.80" height="3.80" fill="#a9a9a9"/>
<rect x="315.60" y="401.85" width="3.80" height="3.80" fill="#a9a9a9"/>
<line x1="206.00" y1="390.60" x2="206.00" y2="471.60" stroke="#262626" stroke-width="1.5"/>
<line x1="205.30" y1="471.00" x2="321.70" y2="471.00" stroke="#262626" stroke-width="1.5"/>
<line x1="204.20" y1="471.00" x2="206.00" y2="471.00" stroke="#1e1e1e" stroke-width="0.9"/>
<text x="201.60" y="473.10" font-size="9.3" text-anchor="end" fill="#1e1e1e" stroke="#1e1e1e" textLength="5.3" lengthAdjust="spacingAndGlyphs">0</text>
<line x1="204.20" y1="455.06" x2="206.00" y2="455.06" stroke="#1e1e1e" stroke-width="0.9"/>
<text x="201.60" y="457.16" font-size="9.3" text-anchor="end" fill="#1e1e1e" stroke="#1e1e1e" textLength="15.8" lengthAdjust="spacingAndGlyphs">200</text>
<line x1="204.20" y1="439.12" x2="206.00" y2="439.12" stroke="#1e1e1e" stroke-width="0.9"/>
<text x="201.60" y="441.22" font-size="9.3" text-anchor="end" fill="#1e1e1e" stroke="#1e1e1e" textLength="15.8" lengthAdjust="spacingAndGlyphs">400</text>
<line x1="204.20" y1="423.18" x2="206.00" y2="423.18" stroke="#1e1e1e" stroke-width="0.9"/>
<text x="201.60" y="425.28" font-size="9.3" text-anchor="end" fill="#1e1e1e" stroke="#1e1e1e" textLength="15.8" lengthAdjust="spacingAndGlyphs">600</text>
<line x1="204.20" y1="407.24" x2="206.00" y2="407.24" stroke="#1e1e1e" stroke-width="0.9"/>
<text x="201.60" y="409.34" font-size="9.3" text-anchor="end" fill="#1e1e1e" stroke="#1e1e1e" textLength="15.8" lengthAdjust="spacingAndGlyphs">800</text>
<line x1="204.20" y1="391.30" x2="206.00" y2="391.30" stroke="#1e1e1e" stroke-width="0.9"/>
<text x="201.60" y="393.40" font-size="9.3" text-anchor="end" fill="#1e1e1e" stroke="#1e1e1e" textLength="23.4" lengthAdjust="spacingAndGlyphs">1,000</text>
<line x1="206.00" y1="471.00" x2="206.00" y2="472.60" stroke="#1e1e1e" stroke-width="0.9"/>
<text x="206.00" y="481.40" font-size="10.6" text-anchor="middle" fill="#1e1e1e" stroke="#1e1e1e" textLength="5.7" lengthAdjust="spacingAndGlyphs">5</text>
<line x1="225.20" y1="471.00" x2="225.20" y2="472.60" stroke="#1e1e1e" stroke-width="0.9"/>
<text x="225.20" y="481.40" font-size="10.6" text-anchor="middle" fill="#1e1e1e" stroke="#1e1e1e" textLength="11.4" lengthAdjust="spacingAndGlyphs">10</text>
<line x1="244.40" y1="471.00" x2="244.40" y2="472.60" stroke="#1e1e1e" stroke-width="0.9"/>
<text x="244.40" y="481.40" font-size="10.6" text-anchor="middle" fill="#1e1e1e" stroke="#1e1e1e" textLength="11.4" lengthAdjust="spacingAndGlyphs">15</text>
<line x1="263.60" y1="471.00" x2="263.60" y2="472.60" stroke="#1e1e1e" stroke-width="0.9"/>
<text x="263.60" y="481.40" font-size="10.6" text-anchor="middle" fill="#1e1e1e" stroke="#1e1e1e" textLength="11.4" lengthAdjust="spacingAndGlyphs">20</text>
<line x1="282.80" y1="471.00" x2="282.80" y2="472.60" stroke="#1e1e1e" stroke-width="0.9"/>
<text x="282.80" y="481.40" font-size="10.6" text-anchor="middle" fill="#1e1e1e" stroke="#1e1e1e" textLength="11.4" lengthAdjust="spacingAndGlyphs">25</text>
<line x1="302.00" y1="471.00" x2="302.00" y2="472.60" stroke="#1e1e1e" stroke-width="0.9"/>
<text x="302.00" y="481.40" font-size="10.6" text-anchor="middle" fill="#1e1e1e" stroke="#1e1e1e" textLength="11.4" lengthAdjust="spacingAndGlyphs">30</text>
<line x1="321.20" y1="471.00" x2="321.20" y2="472.60" stroke="#1e1e1e" stroke-width="0.9"/>
<text x="321.20" y="481.40" font-size="10.6" text-anchor="middle" fill="#1e1e1e" stroke="#1e1e1e" textLength="11.4" lengthAdjust="spacingAndGlyphs">35</text>
<text x="219.00" y="395.00" font-size="11.2" font-weight="bold" fill="#111" stroke="#111" textLength="25.5" lengthAdjust="spacingAndGlyphs">C002</text>
<path d="M207.20 420.00 L211.80 420.00 L209.50 432.00 Z" fill="#fff" stroke="#262626" stroke-width="1.0" stroke-linejoin="miter"/>
<path d="M277.70 396.20 L282.30 396.20 L280.00 407.20 Z" fill="#fff" stroke="#262626" stroke-width="1.0" stroke-linejoin="miter"/>
<line x1="294.00" y1="430.30" x2="313.70" y2="430.30" stroke="#b0b0b0" stroke-width="1.0"/>
<rect x="302.20" y="427.60" width="5.00" height="5.00" fill="#a6a6a6"/>
<text x="316.30" y="432.90" font-size="7.9" fill="#1e1e1e" stroke="#1e1e1e" textLength="25.4" lengthAdjust="spacingAndGlyphs">Control</text>
<line x1="293.50" y1="439.80" x2="313.00" y2="439.80" stroke="#141414" stroke-width="1.6"/>
<circle cx="303.0" cy="439.8" r="2.9" fill="#141414"/>
<text x="314.80" y="441.90" font-size="8" fill="#1e1e1e" stroke="#1e1e1e" textLength="28.9" lengthAdjust="spacingAndGlyphs">CHEK1i</text>
<polyline points="74.50,563.75 78.75,565.00 86.25,562.50 88.75,563.25 95.00,562.50 101.75,560.00 106.25,555.75 117.50,558.75 122.50,553.75 135.75,552.50 151.75,546.75 158.25,542.00 169.50,535.00" fill="none" stroke="#141414" stroke-width="1.5" stroke-linejoin="round"/>
<circle cx="74.50" cy="563.75" r="1.9" fill="#141414"/>
<circle cx="78.75" cy="565.00" r="1.9" fill="#141414"/>
<circle cx="86.25" cy="562.50" r="1.9" fill="#141414"/>
<circle cx="88.75" cy="563.25" r="1.9" fill="#141414"/>
<circle cx="95.00" cy="562.50" r="1.9" fill="#141414"/>
<circle cx="101.75" cy="560.00" r="1.9" fill="#141414"/>
<circle cx="106.25" cy="555.75" r="1.9" fill="#141414"/>
<circle cx="117.50" cy="558.75" r="1.9" fill="#141414"/>
<circle cx="122.50" cy="553.75" r="1.9" fill="#141414"/>
<circle cx="135.75" cy="552.50" r="1.9" fill="#141414"/>
<circle cx="151.75" cy="546.75" r="1.9" fill="#141414"/>
<circle cx="158.25" cy="542.00" r="1.9" fill="#141414"/>
<circle cx="169.50" cy="535.00" r="1.9" fill="#141414"/>
<polyline points="74.50,560.00 78.75,563.75 86.25,559.50 88.75,559.50 95.00,556.25 101.75,552.50 106.25,550.00 117.50,542.50 122.50,537.50 135.75,528.75 151.75,522.50 158.25,517.50 169.50,514.25" fill="none" stroke="#a9a9a9" stroke-width="1.5" stroke-linejoin="round"/>
<rect x="73.20" y="558.70" width="2.60" height="2.60" fill="#a9a9a9"/>
<rect x="77.45" y="562.45" width="2.60" height="2.60" fill="#a9a9a9"/>
<rect x="84.95" y="558.20" width="2.60" height="2.60" fill="#a9a9a9"/>
<rect x="87.45" y="558.20" width="2.60" height="2.60" fill="#a9a9a9"/>
<rect x="93.70" y="554.95" width="2.60" height="2.60" fill="#a9a9a9"/>
<rect x="100.45" y="551.20" width="2.60" height="2.60" fill="#a9a9a9"/>
<rect x="104.95" y="548.70" width="2.60" height="2.60" fill="#a9a9a9"/>
<rect x="116.20" y="541.20" width="2.60" height="2.60" fill="#a9a9a9"/>
<rect x="121.20" y="536.20" width="2.60" height="2.60" fill="#a9a9a9"/>
<rect x="134.45" y="527.45" width="2.60" height="2.60" fill="#a9a9a9"/>
<rect x="150.45" y="521.20" width="2.60" height="2.60" fill="#a9a9a9"/>
<rect x="156.95" y="516.20" width="2.60" height="2.60" fill="#a9a9a9"/>
<rect x="168.20" y="512.95" width="2.60" height="2.60" fill="#a9a9a9"/>
<line x1="74.50" y1="549.50" x2="74.50" y2="566.25" stroke="#1c1c1c" stroke-width="1.3" stroke-dasharray="6 0.9"/>
<line x1="78.75" y1="555.00" x2="78.75" y2="567.50" stroke="#1c1c1c" stroke-width="1.3" stroke-dasharray="6 0.9"/>
<line x1="86.25" y1="552.50" x2="86.25" y2="566.25" stroke="#1c1c1c" stroke-width="1.3" stroke-dasharray="6 0.9"/>
<line x1="88.75" y1="553.75" x2="88.75" y2="566.25" stroke="#1c1c1c" stroke-width="1.3" stroke-dasharray="6 0.9"/>
<line x1="95.00" y1="548.75" x2="95.00" y2="565.00" stroke="#1c1c1c" stroke-width="1.3" stroke-dasharray="6 0.9"/>
<line x1="101.75" y1="545.50" x2="101.75" y2="562.50" stroke="#1c1c1c" stroke-width="1.3" stroke-dasharray="6 0.9"/>
<line x1="106.25" y1="543.75" x2="106.25" y2="560.00" stroke="#1c1c1c" stroke-width="1.3" stroke-dasharray="6 0.9"/>
<line x1="117.50" y1="533.75" x2="117.50" y2="565.00" stroke="#1c1c1c" stroke-width="1.3" stroke-dasharray="6 0.9"/>
<line x1="122.50" y1="530.00" x2="122.50" y2="558.75" stroke="#1c1c1c" stroke-width="1.3" stroke-dasharray="6 0.9"/>
<line x1="135.75" y1="517.50" x2="135.75" y2="540.00" stroke="#1c1c1c" stroke-width="1.3" stroke-dasharray="6 0.9"/>
<line x1="151.75" y1="512.50" x2="151.75" y2="533.75" stroke="#1c1c1c" stroke-width="1.3" stroke-dasharray="6 0.9"/>
<line x1="158.25" y1="505.00" x2="158.25" y2="555.00" stroke="#1c1c1c" stroke-width="1.3" stroke-dasharray="6 0.9"/>
<line x1="169.50" y1="498.75" x2="169.50" y2="546.25" stroke="#1c1c1c" stroke-width="1.3" stroke-dasharray="6 0.9"/>
<line x1="117.50" y1="552.50" x2="117.50" y2="565.00" stroke="#161616" stroke-width="1.3"/>
<line x1="122.50" y1="546.25" x2="122.50" y2="558.75" stroke="#161616" stroke-width="1.3"/>
<line x1="135.75" y1="546.25" x2="135.75" y2="558.75" stroke="#161616" stroke-width="1.3"/>
<line x1="151.75" y1="540.00" x2="151.75" y2="553.75" stroke="#161616" stroke-width="1.3"/>
<line x1="158.25" y1="533.75" x2="158.25" y2="555.00" stroke="#161616" stroke-width="1.3"/>
<line x1="169.50" y1="525.00" x2="169.50" y2="546.25" stroke="#161616" stroke-width="1.3"/>
<line x1="65.80" y1="491.50" x2="65.80" y2="577.60" stroke="#262626" stroke-width="1.5"/>
<line x1="65.10" y1="577.00" x2="179.30" y2="577.00" stroke="#262626" stroke-width="1.5"/>
<line x1="64.00" y1="577.00" x2="65.80" y2="577.00" stroke="#1e1e1e" stroke-width="0.9"/>
<text x="61.40" y="579.30" font-size="10.0" text-anchor="end" fill="#1e1e1e" stroke="#1e1e1e" textLength="4.7" lengthAdjust="spacingAndGlyphs">0</text>
<line x1="64.00" y1="555.75" x2="65.80" y2="555.75" stroke="#1e1e1e" stroke-width="0.9"/>
<text x="61.40" y="558.05" font-size="10.0" text-anchor="end" fill="#1e1e1e" stroke="#1e1e1e" textLength="14.1" lengthAdjust="spacingAndGlyphs">100</text>
<line x1="64.00" y1="534.50" x2="65.80" y2="534.50" stroke="#1e1e1e" stroke-width="0.9"/>
<text x="61.40" y="536.80" font-size="10.0" text-anchor="end" fill="#1e1e1e" stroke="#1e1e1e" textLength="14.1" lengthAdjust="spacingAndGlyphs">200</text>
<line x1="64.00" y1="513.25" x2="65.80" y2="513.25" stroke="#1e1e1e" stroke-width="0.9"/>
<text x="61.40" y="515.55" font-size="10.0" text-anchor="end" fill="#1e1e1e" stroke="#1e1e1e" textLength="14.1" lengthAdjust="spacingAndGlyphs">300</text>
<line x1="64.00" y1="492.00" x2="65.80" y2="492.00" stroke="#1e1e1e" stroke-width="0.9"/>
<text x="61.40" y="494.30" font-size="10.0" text-anchor="end" fill="#1e1e1e" stroke="#1e1e1e" textLength="14.1" lengthAdjust="spacingAndGlyphs">400</text>
<line x1="65.80" y1="577.00" x2="65.80" y2="578.60" stroke="#1e1e1e" stroke-width="0.9"/>
<text x="65.80" y="588.50" font-size="10.6" text-anchor="middle" fill="#1e1e1e" stroke="#1e1e1e" textLength="5.7" lengthAdjust="spacingAndGlyphs">5</text>
<line x1="88.40" y1="577.00" x2="88.40" y2="578.60" stroke="#1e1e1e" stroke-width="0.9"/>
<text x="88.40" y="588.50" font-size="10.6" text-anchor="middle" fill="#1e1e1e" stroke="#1e1e1e" textLength="11.4" lengthAdjust="spacingAndGlyphs">15</text>
<line x1="111.00" y1="577.00" x2="111.00" y2="578.60" stroke="#1e1e1e" stroke-width="0.9"/>
<text x="111.00" y="588.50" font-size="10.6" text-anchor="middle" fill="#1e1e1e" stroke="#1e1e1e" textLength="11.4" lengthAdjust="spacingAndGlyphs">25</text>
<line x1="133.60" y1="577.00" x2="133.60" y2="578.60" stroke="#1e1e1e" stroke-width="0.9"/>
<text x="133.60" y="588.50" font-size="10.6" text-anchor="middle" fill="#1e1e1e" stroke="#1e1e1e" textLength="11.4" lengthAdjust="spacingAndGlyphs">35</text>
<line x1="156.20" y1="577.00" x2="156.20" y2="578.60" stroke="#1e1e1e" stroke-width="0.9"/>
<text x="156.20" y="588.50" font-size="10.6" text-anchor="middle" fill="#1e1e1e" stroke="#1e1e1e" textLength="11.4" lengthAdjust="spacingAndGlyphs">45</text>
<line x1="178.80" y1="577.00" x2="178.80" y2="578.60" stroke="#1e1e1e" stroke-width="0.9"/>
<text x="178.80" y="588.50" font-size="10.6" text-anchor="middle" fill="#1e1e1e" stroke="#1e1e1e" textLength="11.4" lengthAdjust="spacingAndGlyphs">55</text>
<text x="74.70" y="496.70" font-size="11.2" font-weight="bold" fill="#111" stroke="#111" textLength="39.3" lengthAdjust="spacingAndGlyphs">MM96L</text>
<path d="M84.70 510.50 L89.30 510.50 L87.00 520.50 Z" fill="#fff" stroke="#262626" stroke-width="1.0" stroke-linejoin="miter"/>
<path d="M129.10 508.80 L133.70 508.80 L131.40 518.80 Z" fill="#fff" stroke="#262626" stroke-width="1.0" stroke-linejoin="miter"/>
<text x="121.40" y="529.00" font-size="9.5" text-anchor="middle" fill="#222" stroke="#222">*</text>
<text x="136.60" y="521.20" font-size="9.5" text-anchor="middle" fill="#222" stroke="#222">**</text>
<text x="151.00" y="511.50" font-size="9.5" text-anchor="middle" fill="#222" stroke="#222">**</text>
<text x="158.50" y="503.50" font-size="9.5" text-anchor="middle" fill="#222" stroke="#222">**</text>
<text x="168.90" y="498.60" font-size="9.5" text-anchor="middle" fill="#222" stroke="#222">*</text>
<line x1="226.13" y1="547.50" x2="226.13" y2="557.50" stroke="#7d7d7d" stroke-width="1.15"/>
<line x1="224.83" y1="547.50" x2="227.43" y2="547.50" stroke="#7d7d7d" stroke-width="0.8"/>
<line x1="224.83" y1="557.50" x2="227.43" y2="557.50" stroke="#7d7d7d" stroke-width="0.8"/>
<line x1="231.91" y1="540.00" x2="231.91" y2="551.25" stroke="#7d7d7d" stroke-width="1.15"/>
<line x1="230.61" y1="540.00" x2="233.21" y2="540.00" stroke="#7d7d7d" stroke-width="0.8"/>
<line x1="230.61" y1="551.25" x2="233.21" y2="551.25" stroke="#7d7d7d" stroke-width="0.8"/>
<line x1="243.47" y1="537.00" x2="243.47" y2="550.00" stroke="#7d7d7d" stroke-width="1.15"/>
<line x1="242.17" y1="537.00" x2="244.77" y2="537.00" stroke="#7d7d7d" stroke-width="0.8"/>
<line x1="242.17" y1="550.00" x2="244.77" y2="550.00" stroke="#7d7d7d" stroke-width="0.8"/>
<line x1="246.36" y1="537.50" x2="246.36" y2="550.00" stroke="#7d7d7d" stroke-width="1.15"/>
<line x1="245.06" y1="537.50" x2="247.66" y2="537.50" stroke="#7d7d7d" stroke-width="0.8"/>
<line x1="245.06" y1="550.00" x2="247.66" y2="550.00" stroke="#7d7d7d" stroke-width="0.8"/>
<line x1="252.14" y1="530.75" x2="252.14" y2="545.00" stroke="#7d7d7d" stroke-width="1.15"/>
<line x1="250.84" y1="530.75" x2="253.44" y2="530.75" stroke="#7d7d7d" stroke-width="0.8"/>
<line x1="250.84" y1="545.00" x2="253.44" y2="545.00" stroke="#7d7d7d" stroke-width="0.8"/>
<line x1="281.04" y1="511.25" x2="281.04" y2="533.75" stroke="#7d7d7d" stroke-width="1.15"/>
<line x1="279.74" y1="511.25" x2="282.34" y2="511.25" stroke="#7d7d7d" stroke-width="0.8"/>
<line x1="279.74" y1="533.75" x2="282.34" y2="533.75" stroke="#7d7d7d" stroke-width="0.8"/>
<line x1="289.71" y1="503.75" x2="289.71" y2="523.00" stroke="#7d7d7d" stroke-width="1.15"/>
<line x1="288.41" y1="503.75" x2="291.01" y2="503.75" stroke="#7d7d7d" stroke-width="0.8"/>
<line x1="288.41" y1="523.00" x2="291.01" y2="523.00" stroke="#7d7d7d" stroke-width="0.8"/>
<line x1="304.16" y1="498.00" x2="304.16" y2="517.50" stroke="#7d7d7d" stroke-width="1.15"/>
<line x1="302.86" y1="498.00" x2="305.46" y2="498.00" stroke="#7d7d7d" stroke-width="0.8"/>
<line x1="302.86" y1="517.50" x2="305.46" y2="517.50" stroke="#7d7d7d" stroke-width="0.8"/>
<line x1="226.13" y1="553.75" x2="226.13" y2="561.25" stroke="#161616" stroke-width="1.15"/>
<line x1="224.83" y1="553.75" x2="227.43" y2="553.75" stroke="#161616" stroke-width="0.8"/>
<line x1="224.83" y1="561.25" x2="227.43" y2="561.25" stroke="#161616" stroke-width="0.8"/>
<line x1="231.91" y1="554.00" x2="231.91" y2="557.50" stroke="#161616" stroke-width="1.15"/>
<line x1="230.61" y1="554.00" x2="233.21" y2="554.00" stroke="#161616" stroke-width="0.8"/>
<line x1="230.61" y1="557.50" x2="233.21" y2="557.50" stroke="#161616" stroke-width="0.8"/>
<line x1="243.47" y1="547.50" x2="243.47" y2="557.00" stroke="#161616" stroke-width="1.15"/>
<line x1="242.17" y1="547.50" x2="244.77" y2="547.50" stroke="#161616" stroke-width="0.8"/>
<line x1="242.17" y1="557.00" x2="244.77" y2="557.00" stroke="#161616" stroke-width="0.8"/>
<line x1="246.36" y1="547.50" x2="246.36" y2="556.25" stroke="#161616" stroke-width="1.15"/>
<line x1="245.06" y1="547.50" x2="247.66" y2="547.50" stroke="#161616" stroke-width="0.8"/>
<line x1="245.06" y1="556.25" x2="247.66" y2="556.25" stroke="#161616" stroke-width="0.8"/>
<line x1="252.14" y1="548.25" x2="252.14" y2="557.50" stroke="#161616" stroke-width="1.15"/>
<line x1="250.84" y1="548.25" x2="253.44" y2="548.25" stroke="#161616" stroke-width="0.8"/>
<line x1="250.84" y1="557.50" x2="253.44" y2="557.50" stroke="#161616" stroke-width="0.8"/>
<line x1="281.04" y1="533.00" x2="281.04" y2="550.00" stroke="#161616" stroke-width="1.15"/>
<line x1="279.74" y1="533.00" x2="282.34" y2="533.00" stroke="#161616" stroke-width="0.8"/>
<line x1="279.74" y1="550.00" x2="282.34" y2="550.00" stroke="#161616" stroke-width="0.8"/>
<line x1="289.71" y1="535.00" x2="289.71" y2="551.25" stroke="#161616" stroke-width="1.15"/>
<line x1="288.41" y1="535.00" x2="291.01" y2="535.00" stroke="#161616" stroke-width="0.8"/>
<line x1="288.41" y1="551.25" x2="291.01" y2="551.25" stroke="#161616" stroke-width="0.8"/>
<line x1="304.16" y1="538.75" x2="304.16" y2="551.75" stroke="#161616" stroke-width="1.15"/>
<line x1="302.86" y1="538.75" x2="305.46" y2="538.75" stroke="#161616" stroke-width="0.8"/>
<line x1="302.86" y1="551.75" x2="305.46" y2="551.75" stroke="#161616" stroke-width="0.8"/>
<polyline points="205.90,563.75 226.13,557.50 231.91,555.75 243.47,552.50 246.36,551.75 252.14,553.25 281.04,540.75 289.71,542.50 304.16,545.00" fill="none" stroke="#141414" stroke-width="1.6" stroke-linejoin="round"/>
<circle cx="205.90" cy="563.75" r="2.2" fill="#141414"/>
<circle cx="226.13" cy="557.50" r="2.2" fill="#141414"/>
<circle cx="231.91" cy="555.75" r="2.2" fill="#141414"/>
<circle cx="243.47" cy="552.50" r="2.2" fill="#141414"/>
<circle cx="246.36" cy="551.75" r="2.2" fill="#141414"/>
<circle cx="252.14" cy="553.25" r="2.2" fill="#141414"/>
<circle cx="281.04" cy="540.75" r="2.2" fill="#141414"/>
<circle cx="289.71" cy="542.50" r="2.2" fill="#141414"/>
<circle cx="304.16" cy="545.00" r="2.2" fill="#141414"/>
<polyline points="205.90,563.75 226.13,552.50 231.91,545.50 243.47,543.75 246.36,543.75 252.14,538.00 281.04,522.50 289.71,513.25 304.16,507.50" fill="none" stroke="#9a9a9a" stroke-width="1.6" stroke-linejoin="round"/>
<rect x="203.70" y="561.55" width="4.40" height="4.40" fill="#9a9a9a"/>
<rect x="223.93" y="550.30" width="4.40" height="4.40" fill="#9a9a9a"/>
<rect x="229.71" y="543.30" width="4.40" height="4.40" fill="#9a9a9a"/>
<rect x="241.27" y="541.55" width="4.40" height="4.40" fill="#9a9a9a"/>
<rect x="244.16" y="541.55" width="4.40" height="4.40" fill="#9a9a9a"/>
<rect x="249.94" y="535.80" width="4.40" height="4.40" fill="#9a9a9a"/>
<rect x="278.84" y="520.30" width="4.40" height="4.40" fill="#9a9a9a"/>
<rect x="287.51" y="511.05" width="4.40" height="4.40" fill="#9a9a9a"/>
<rect x="301.96" y="505.30" width="4.40" height="4.40" fill="#9a9a9a"/>
<line x1="205.90" y1="489.50" x2="205.90" y2="576.90" stroke="#262626" stroke-width="1.5"/>
<line x1="205.20" y1="576.30" x2="322.00" y2="576.30" stroke="#262626" stroke-width="1.5"/>
<line x1="204.10" y1="576.30" x2="205.90" y2="576.30" stroke="#1e1e1e" stroke-width="0.9"/>
<text x="201.50" y="579.00" font-size="9.2" text-anchor="end" fill="#1e1e1e" stroke="#1e1e1e" textLength="4.7" lengthAdjust="spacingAndGlyphs">0</text>
<line x1="204.10" y1="559.44" x2="205.90" y2="559.44" stroke="#1e1e1e" stroke-width="0.9"/>
<text x="201.50" y="562.14" font-size="9.2" text-anchor="end" fill="#1e1e1e" stroke="#1e1e1e" textLength="14.0" lengthAdjust="spacingAndGlyphs">200</text>
<line x1="204.10" y1="542.58" x2="205.90" y2="542.58" stroke="#1e1e1e" stroke-width="0.9"/>
<text x="201.50" y="545.28" font-size="9.2" text-anchor="end" fill="#1e1e1e" stroke="#1e1e1e" textLength="14.0" lengthAdjust="spacingAndGlyphs">400</text>
<line x1="204.10" y1="525.72" x2="205.90" y2="525.72" stroke="#1e1e1e" stroke-width="0.9"/>
<text x="201.50" y="528.42" font-size="9.2" text-anchor="end" fill="#1e1e1e" stroke="#1e1e1e" textLength="14.0" lengthAdjust="spacingAndGlyphs">600</text>
<line x1="204.10" y1="508.86" x2="205.90" y2="508.86" stroke="#1e1e1e" stroke-width="0.9"/>
<text x="201.50" y="511.56" font-size="9.2" text-anchor="end" fill="#1e1e1e" stroke="#1e1e1e" textLength="14.0" lengthAdjust="spacingAndGlyphs">800</text>
<line x1="204.10" y1="492.00" x2="205.90" y2="492.00" stroke="#1e1e1e" stroke-width="0.9"/>
<text x="201.50" y="494.70" font-size="9.2" text-anchor="end" fill="#1e1e1e" stroke="#1e1e1e" textLength="20.8" lengthAdjust="spacingAndGlyphs">1,000</text>
<line x1="205.90" y1="576.30" x2="205.90" y2="577.90" stroke="#1e1e1e" stroke-width="0.9"/>
<text x="205.90" y="587.00" font-size="10.0" text-anchor="middle" fill="#1e1e1e" stroke="#1e1e1e" textLength="5.4" lengthAdjust="spacingAndGlyphs">5</text>
<line x1="234.80" y1="576.30" x2="234.80" y2="577.90" stroke="#1e1e1e" stroke-width="0.9"/>
<text x="234.80" y="587.00" font-size="10.0" text-anchor="middle" fill="#1e1e1e" stroke="#1e1e1e" textLength="10.8" lengthAdjust="spacingAndGlyphs">15</text>
<line x1="263.70" y1="576.30" x2="263.70" y2="577.90" stroke="#1e1e1e" stroke-width="0.9"/>
<text x="263.70" y="587.00" font-size="10.0" text-anchor="middle" fill="#1e1e1e" stroke="#1e1e1e" textLength="10.8" lengthAdjust="spacingAndGlyphs">25</text>
<line x1="292.60" y1="576.30" x2="292.60" y2="577.90" stroke="#1e1e1e" stroke-width="0.9"/>
<text x="292.60" y="587.00" font-size="10.0" text-anchor="middle" fill="#1e1e1e" stroke="#1e1e1e" textLength="10.8" lengthAdjust="spacingAndGlyphs">35</text>
<line x1="321.50" y1="576.30" x2="321.50" y2="577.90" stroke="#1e1e1e" stroke-width="0.9"/>
<text x="321.50" y="587.00" font-size="10.0" text-anchor="middle" fill="#1e1e1e" stroke="#1e1e1e" textLength="10.8" lengthAdjust="spacingAndGlyphs">45</text>
<text x="223.40" y="494.40" font-size="11.2" font-weight="bold" fill="#111" stroke="#111" textLength="25.3" lengthAdjust="spacingAndGlyphs">C045</text>
<path d="M206.45 522.50 L211.05 522.50 L208.75 533.80 Z" fill="#fff" stroke="#262626" stroke-width="1.0" stroke-linejoin="miter"/>
<path d="M252.70 512.00 L257.30 512.00 L255.00 524.50 Z" fill="#fff" stroke="#262626" stroke-width="1.0" stroke-linejoin="miter"/>
<path d="M285.70 490.50 L290.30 490.50 L288.00 502.50 Z" fill="#1a1a1a" stroke="#1a1a1a" stroke-width="0.8"/>
<text fill="#1e1e1e" stroke="#1e1e1e" transform="translate(38.4 478.2) rotate(-90)" font-size="11.8" text-anchor="middle" textLength="76.5" lengthAdjust="spacingAndGlyphs">Volume (mm<tspan font-size="8.5" dy="-4">3</tspan><tspan dy="4">)</tspan></text>
<text x="123.90" y="602.00" font-size="11.9" fill="#1e1e1e" stroke="#1e1e1e" textLength="144.8" lengthAdjust="spacingAndGlyphs">Days after tumor inoculation</text>
<text x="204.00" y="377.00" font-size="12.3" text-anchor="middle" font-weight="bold" fill="#111" stroke="#111" textLength="83.5" lengthAdjust="spacingAndGlyphs">Hypersensitive</text>
<text x="0.70" y="369.80" font-size="12.8" font-weight="bold" fill="#111" stroke="#111">C</text>
</g>
<g id="panelD">
<line x1="408.20" y1="463.31" x2="408.20" y2="467.88" stroke="#161616" stroke-width="1.15"/>
<line x1="406.90" y1="463.31" x2="409.50" y2="463.31" stroke="#161616" stroke-width="0.8"/>
<line x1="406.90" y1="467.88" x2="409.50" y2="467.88" stroke="#161616" stroke-width="0.8"/>
<line x1="422.90" y1="455.77" x2="422.90" y2="466.54" stroke="#161616" stroke-width="1.15"/>
<line x1="421.60" y1="455.77" x2="424.20" y2="455.77" stroke="#161616" stroke-width="0.8"/>
<line x1="421.60" y1="466.54" x2="424.20" y2="466.54" stroke="#161616" stroke-width="0.8"/>
<line x1="441.50" y1="445.54" x2="441.50" y2="463.85" stroke="#161616" stroke-width="1.15"/>
<line x1="440.20" y1="445.54" x2="442.80" y2="445.54" stroke="#161616" stroke-width="0.8"/>
<line x1="440.20" y1="463.85" x2="442.80" y2="463.85" stroke="#161616" stroke-width="0.8"/>
<line x1="455.80" y1="430.19" x2="455.80" y2="463.85" stroke="#161616" stroke-width="1.15"/>
<line x1="454.50" y1="430.19" x2="457.10" y2="430.19" stroke="#161616" stroke-width="0.8"/>
<line x1="454.50" y1="463.85" x2="457.10" y2="463.85" stroke="#161616" stroke-width="0.8"/>
<line x1="465.20" y1="422.12" x2="465.20" y2="461.69" stroke="#161616" stroke-width="1.15"/>
<line x1="463.90" y1="422.12" x2="466.50" y2="422.12" stroke="#161616" stroke-width="0.8"/>
<line x1="463.90" y1="461.69" x2="466.50" y2="461.69" stroke="#161616" stroke-width="0.8"/>
<line x1="488.90" y1="403.27" x2="488.90" y2="449.04" stroke="#161616" stroke-width="1.15"/>
<line x1="487.60" y1="403.27" x2="490.20" y2="403.27" stroke="#161616" stroke-width="0.8"/>
<line x1="487.60" y1="449.04" x2="490.20" y2="449.04" stroke="#161616" stroke-width="0.8"/>
<line x1="503.40" y1="392.50" x2="503.40" y2="448.23" stroke="#161616" stroke-width="1.15"/>
<line x1="502.10" y1="392.50" x2="504.70" y2="392.50" stroke="#161616" stroke-width="0.8"/>
<line x1="502.10" y1="448.23" x2="504.70" y2="448.23" stroke="#161616" stroke-width="0.8"/>
<polyline points="392.20,465.73 398.80,466.00 408.20,466.00 422.90,464.65 441.50,459.00 455.80,454.42 465.20,445.54 488.90,426.15 503.40,420.23" fill="none" stroke="#141414" stroke-width="1.7" stroke-linejoin="round"/>
<circle cx="392.20" cy="465.73" r="2.3" fill="#141414"/>
<circle cx="398.80" cy="466.00" r="2.3" fill="#141414"/>
<circle cx="408.20" cy="466.00" r="2.3" fill="#141414"/>
<circle cx="422.90" cy="464.65" r="2.3" fill="#141414"/>
<circle cx="441.50" cy="459.00" r="2.3" fill="#141414"/>
<circle cx="455.80" cy="454.42" r="2.3" fill="#141414"/>
<circle cx="465.20" cy="445.54" r="2.3" fill="#141414"/>
<circle cx="488.90" cy="426.15" r="2.3" fill="#141414"/>
<circle cx="503.40" cy="420.23" r="2.3" fill="#141414"/>
<polyline points="392.20,465.73 398.80,465.73 408.20,463.31 422.90,460.62 441.50,453.08 455.80,444.46 465.20,438.81 488.90,432.08 503.40,420.23" fill="none" stroke="#a9a9a9" stroke-width="1.7" stroke-linejoin="round"/>
<rect x="390.05" y="463.58" width="4.30" height="4.30" fill="#a9a9a9"/>
<rect x="396.65" y="463.58" width="4.30" height="4.30" fill="#a9a9a9"/>
<rect x="406.05" y="461.16" width="4.30" height="4.30" fill="#a9a9a9"/>
<rect x="420.75" y="458.47" width="4.30" height="4.30" fill="#a9a9a9"/>
<rect x="439.35" y="450.93" width="4.30" height="4.30" fill="#a9a9a9"/>
<rect x="453.65" y="442.31" width="4.30" height="4.30" fill="#a9a9a9"/>
<rect x="463.05" y="436.66" width="4.30" height="4.30" fill="#a9a9a9"/>
<rect x="486.75" y="429.93" width="4.30" height="4.30" fill="#a9a9a9"/>
<rect x="501.25" y="418.08" width="4.30" height="4.30" fill="#a9a9a9"/>
<line x1="387.60" y1="394.00" x2="387.60" y2="471.10" stroke="#262626" stroke-width="1.5"/>
<line x1="386.90" y1="470.50" x2="503.70" y2="470.50" stroke="#262626" stroke-width="1.5"/>
<line x1="385.80" y1="470.50" x2="387.60" y2="470.50" stroke="#1e1e1e" stroke-width="0.9"/>
<text x="383.20" y="472.40" font-size="9.8" text-anchor="end" fill="#1e1e1e" stroke="#1e1e1e" textLength="5.4" lengthAdjust="spacingAndGlyphs">0</text>
<line x1="385.80" y1="455.96" x2="387.60" y2="455.96" stroke="#1e1e1e" stroke-width="0.9"/>
<text x="383.20" y="457.86" font-size="9.8" text-anchor="end" fill="#1e1e1e" stroke="#1e1e1e" textLength="16.0" lengthAdjust="spacingAndGlyphs">200</text>
<line x1="385.80" y1="441.42" x2="387.60" y2="441.42" stroke="#1e1e1e" stroke-width="0.9"/>
<text x="383.20" y="443.32" font-size="9.8" text-anchor="end" fill="#1e1e1e" stroke="#1e1e1e" textLength="16.0" lengthAdjust="spacingAndGlyphs">400</text>
<line x1="385.80" y1="426.88" x2="387.60" y2="426.88" stroke="#1e1e1e" stroke-width="0.9"/>
<text x="383.20" y="428.78" font-size="9.8" text-anchor="end" fill="#1e1e1e" stroke="#1e1e1e" textLength="16.0" lengthAdjust="spacingAndGlyphs">600</text>
<line x1="385.80" y1="412.34" x2="387.60" y2="412.34" stroke="#1e1e1e" stroke-width="0.9"/>
<text x="383.20" y="414.24" font-size="9.8" text-anchor="end" fill="#1e1e1e" stroke="#1e1e1e" textLength="16.0" lengthAdjust="spacingAndGlyphs">800</text>
<line x1="385.80" y1="397.80" x2="387.60" y2="397.80" stroke="#1e1e1e" stroke-width="0.9"/>
<text x="383.20" y="399.70" font-size="9.8" text-anchor="end" fill="#1e1e1e" stroke="#1e1e1e" textLength="23.7" lengthAdjust="spacingAndGlyphs">1,000</text>
<text x="387.60" y="481.90" font-size="10.6" text-anchor="middle" fill="#1e1e1e" stroke="#1e1e1e" textLength="5.7" lengthAdjust="spacingAndGlyphs">5</text>
<line x1="407.20" y1="470.50" x2="407.20" y2="472.10" stroke="#1e1e1e" stroke-width="0.9"/>
<text x="407.20" y="481.90" font-size="10.6" text-anchor="middle" fill="#1e1e1e" stroke="#1e1e1e" textLength="11.4" lengthAdjust="spacingAndGlyphs">10</text>
<line x1="431.20" y1="470.50" x2="431.20" y2="472.10" stroke="#1e1e1e" stroke-width="0.9"/>
<text x="431.20" y="481.90" font-size="10.6" text-anchor="middle" fill="#1e1e1e" stroke="#1e1e1e" textLength="11.4" lengthAdjust="spacingAndGlyphs">15</text>
<line x1="455.20" y1="470.50" x2="455.20" y2="472.10" stroke="#1e1e1e" stroke-width="0.9"/>
<text x="455.20" y="481.90" font-size="10.6" text-anchor="middle" fill="#1e1e1e" stroke="#1e1e1e" textLength="11.4" lengthAdjust="spacingAndGlyphs">20</text>
<line x1="479.20" y1="470.50" x2="479.20" y2="472.10" stroke="#1e1e1e" stroke-width="0.9"/>
<text x="479.20" y="481.90" font-size="10.6" text-anchor="middle" fill="#1e1e1e" stroke="#1e1e1e" textLength="11.4" lengthAdjust="spacingAndGlyphs">25</text>
<line x1="503.20" y1="470.50" x2="503.20" y2="472.10" stroke="#1e1e1e" stroke-width="0.9"/>
<text x="503.20" y="481.90" font-size="10.6" text-anchor="middle" fill="#1e1e1e" stroke="#1e1e1e" textLength="11.4" lengthAdjust="spacingAndGlyphs">30</text>
<text x="399.30" y="398.20" font-size="11.2" font-weight="bold" fill="#111" stroke="#111" textLength="40.2" lengthAdjust="spacingAndGlyphs">MM370</text>
<path d="M389.40 428.30 L394.00 428.30 L391.70 439.60 Z" fill="#fff" stroke="#262626" stroke-width="1.0" stroke-linejoin="miter"/>
<line x1="410.86" y1="530.23" x2="410.86" y2="541.54" stroke="#7d7d7d" stroke-width="1.15"/>
<line x1="409.56" y1="530.23" x2="412.16" y2="530.23" stroke="#7d7d7d" stroke-width="0.8"/>
<line x1="409.56" y1="541.54" x2="412.16" y2="541.54" stroke="#7d7d7d" stroke-width="0.8"/>
<line x1="428.00" y1="528.08" x2="428.00" y2="542.88" stroke="#7d7d7d" stroke-width="1.15"/>
<line x1="426.70" y1="528.08" x2="429.31" y2="528.08" stroke="#7d7d7d" stroke-width="0.8"/>
<line x1="426.70" y1="542.88" x2="429.31" y2="542.88" stroke="#7d7d7d" stroke-width="0.8"/>
<line x1="433.72" y1="524.04" x2="433.72" y2="538.85" stroke="#7d7d7d" stroke-width="1.15"/>
<line x1="432.42" y1="524.04" x2="435.02" y2="524.04" stroke="#7d7d7d" stroke-width="0.8"/>
<line x1="432.42" y1="538.85" x2="435.02" y2="538.85" stroke="#7d7d7d" stroke-width="0.8"/>
<line x1="439.44" y1="522.69" x2="439.44" y2="534.81" stroke="#7d7d7d" stroke-width="1.15"/>
<line x1="438.13" y1="522.69" x2="440.74" y2="522.69" stroke="#7d7d7d" stroke-width="0.8"/>
<line x1="438.13" y1="534.81" x2="440.74" y2="534.81" stroke="#7d7d7d" stroke-width="0.8"/>
<line x1="445.15" y1="511.92" x2="445.15" y2="528.08" stroke="#7d7d7d" stroke-width="1.15"/>
<line x1="443.85" y1="511.92" x2="446.45" y2="511.92" stroke="#7d7d7d" stroke-width="0.8"/>
<line x1="443.85" y1="528.08" x2="446.45" y2="528.08" stroke="#7d7d7d" stroke-width="0.8"/>
<line x1="473.73" y1="503.85" x2="473.73" y2="520.00" stroke="#7d7d7d" stroke-width="1.15"/>
<line x1="472.43" y1="503.85" x2="475.03" y2="503.85" stroke="#7d7d7d" stroke-width="0.8"/>
<line x1="472.43" y1="520.00" x2="475.03" y2="520.00" stroke="#7d7d7d" stroke-width="0.8"/>
<line x1="388.00" y1="559.04" x2="388.00" y2="564.42" stroke="#161616" stroke-width="1.15"/>
<line x1="386.70" y1="559.04" x2="389.30" y2="559.04" stroke="#161616" stroke-width="0.8"/>
<line x1="386.70" y1="564.42" x2="389.30" y2="564.42" stroke="#161616" stroke-width="0.8"/>
<line x1="410.86" y1="542.08" x2="410.86" y2="552.85" stroke="#161616" stroke-width="1.15"/>
<line x1="409.56" y1="542.08" x2="412.16" y2="542.08" stroke="#161616" stroke-width="0.8"/>
<line x1="409.56" y1="552.85" x2="412.16" y2="552.85" stroke="#161616" stroke-width="0.8"/>
<line x1="428.00" y1="536.15" x2="428.00" y2="550.96" stroke="#161616" stroke-width="1.15"/>
<line x1="426.70" y1="536.15" x2="429.31" y2="536.15" stroke="#161616" stroke-width="0.8"/>
<line x1="426.70" y1="550.96" x2="429.31" y2="550.96" stroke="#161616" stroke-width="0.8"/>
<line x1="433.72" y1="525.38" x2="433.72" y2="546.92" stroke="#161616" stroke-width="1.15"/>
<line x1="432.42" y1="525.38" x2="435.02" y2="525.38" stroke="#161616" stroke-width="0.8"/>
<line x1="432.42" y1="546.92" x2="435.02" y2="546.92" stroke="#161616" stroke-width="0.8"/>
<line x1="439.44" y1="525.38" x2="439.44" y2="538.85" stroke="#161616" stroke-width="1.15"/>
<line x1="438.13" y1="525.38" x2="440.74" y2="525.38" stroke="#161616" stroke-width="0.8"/>
<line x1="438.13" y1="538.85" x2="440.74" y2="538.85" stroke="#161616" stroke-width="0.8"/>
<line x1="445.15" y1="521.35" x2="445.15" y2="537.50" stroke="#161616" stroke-width="1.15"/>
<line x1="443.85" y1="521.35" x2="446.45" y2="521.35" stroke="#161616" stroke-width="0.8"/>
<line x1="443.85" y1="537.50" x2="446.45" y2="537.50" stroke="#161616" stroke-width="0.8"/>
<line x1="473.73" y1="514.08" x2="473.73" y2="522.15" stroke="#161616" stroke-width="1.15"/>
<line x1="472.43" y1="514.08" x2="475.03" y2="514.08" stroke="#161616" stroke-width="0.8"/>
<line x1="472.43" y1="522.15" x2="475.03" y2="522.15" stroke="#161616" stroke-width="0.8"/>
<polyline points="388.00,561.73 410.86,548.27 428.00,543.69 433.72,535.35 439.44,531.31 445.15,528.88 473.73,517.85" fill="none" stroke="#141414" stroke-width="1.9" stroke-linejoin="round"/>
<circle cx="388.00" cy="561.73" r="2.5" fill="#141414"/>
<circle cx="410.86" cy="548.27" r="2.5" fill="#141414"/>
<circle cx="428.00" cy="543.69" r="2.5" fill="#141414"/>
<circle cx="433.72" cy="535.35" r="2.5" fill="#141414"/>
<circle cx="439.44" cy="531.31" r="2.5" fill="#141414"/>
<circle cx="445.15" cy="528.88" r="2.5" fill="#141414"/>
<circle cx="473.73" cy="517.85" r="2.5" fill="#141414"/>
<polyline points="388.00,550.96 410.86,535.62 428.00,536.15 433.72,532.92 439.44,528.08 445.15,520.54 473.73,511.92" fill="none" stroke="#a9a9a9" stroke-width="1.9" stroke-linejoin="round"/>
<rect x="385.80" y="548.76" width="4.40" height="4.40" fill="#a9a9a9"/>
<rect x="408.66" y="533.42" width="4.40" height="4.40" fill="#a9a9a9"/>
<rect x="425.81" y="533.95" width="4.40" height="4.40" fill="#a9a9a9"/>
<rect x="431.52" y="530.72" width="4.40" height="4.40" fill="#a9a9a9"/>
<rect x="437.24" y="525.88" width="4.40" height="4.40" fill="#a9a9a9"/>
<rect x="442.95" y="518.34" width="4.40" height="4.40" fill="#a9a9a9"/>
<rect x="471.53" y="509.72" width="4.40" height="4.40" fill="#a9a9a9"/>
<line x1="388.00" y1="493.00" x2="388.00" y2="572.30" stroke="#262626" stroke-width="1.5"/>
<line x1="387.30" y1="571.70" x2="502.80" y2="571.70" stroke="#262626" stroke-width="1.5"/>
<line x1="386.20" y1="571.70" x2="388.00" y2="571.70" stroke="#1e1e1e" stroke-width="0.9"/>
<text x="383.60" y="574.90" font-size="9.8" text-anchor="end" fill="#1e1e1e" stroke="#1e1e1e" textLength="5.4" lengthAdjust="spacingAndGlyphs">0</text>
<line x1="386.20" y1="555.86" x2="388.00" y2="555.86" stroke="#1e1e1e" stroke-width="0.9"/>
<text x="383.60" y="559.06" font-size="9.8" text-anchor="end" fill="#1e1e1e" stroke="#1e1e1e" textLength="16.0" lengthAdjust="spacingAndGlyphs">200</text>
<line x1="386.20" y1="540.02" x2="388.00" y2="540.02" stroke="#1e1e1e" stroke-width="0.9"/>
<text x="383.60" y="543.22" font-size="9.8" text-anchor="end" fill="#1e1e1e" stroke="#1e1e1e" textLength="16.0" lengthAdjust="spacingAndGlyphs">400</text>
<line x1="386.20" y1="524.18" x2="388.00" y2="524.18" stroke="#1e1e1e" stroke-width="0.9"/>
<text x="383.60" y="527.38" font-size="9.8" text-anchor="end" fill="#1e1e1e" stroke="#1e1e1e" textLength="16.0" lengthAdjust="spacingAndGlyphs">600</text>
<line x1="386.20" y1="508.34" x2="388.00" y2="508.34" stroke="#1e1e1e" stroke-width="0.9"/>
<text x="383.60" y="511.54" font-size="9.8" text-anchor="end" fill="#1e1e1e" stroke="#1e1e1e" textLength="16.0" lengthAdjust="spacingAndGlyphs">800</text>
<line x1="388.00" y1="571.70" x2="388.00" y2="573.30" stroke="#1e1e1e" stroke-width="0.9"/>
<text x="388.00" y="584.30" font-size="10.6" text-anchor="middle" fill="#1e1e1e" stroke="#1e1e1e" textLength="11.4" lengthAdjust="spacingAndGlyphs">20</text>
<line x1="416.57" y1="571.70" x2="416.57" y2="573.30" stroke="#1e1e1e" stroke-width="0.9"/>
<text x="416.57" y="584.30" font-size="10.6" text-anchor="middle" fill="#1e1e1e" stroke="#1e1e1e" textLength="11.4" lengthAdjust="spacingAndGlyphs">25</text>
<line x1="445.15" y1="571.70" x2="445.15" y2="573.30" stroke="#1e1e1e" stroke-width="0.9"/>
<text x="445.15" y="584.30" font-size="10.6" text-anchor="middle" fill="#1e1e1e" stroke="#1e1e1e" textLength="11.4" lengthAdjust="spacingAndGlyphs">30</text>
<line x1="473.73" y1="571.70" x2="473.73" y2="573.30" stroke="#1e1e1e" stroke-width="0.9"/>
<text x="473.73" y="584.30" font-size="10.6" text-anchor="middle" fill="#1e1e1e" stroke="#1e1e1e" textLength="11.4" lengthAdjust="spacingAndGlyphs">35</text>
<line x1="502.30" y1="571.70" x2="502.30" y2="573.30" stroke="#1e1e1e" stroke-width="0.9"/>
<text x="502.30" y="584.30" font-size="10.6" text-anchor="middle" fill="#1e1e1e" stroke="#1e1e1e" textLength="11.4" lengthAdjust="spacingAndGlyphs">40</text>
<text x="400.60" y="500.40" font-size="11.2" font-weight="bold" fill="#111" stroke="#111" textLength="32.4" lengthAdjust="spacingAndGlyphs">A2058</text>
<path d="M385.35 517.80 L389.95 517.80 L387.65 528.00 Z" fill="#8c8c8c" stroke="#444" stroke-width="0.8"/>
<path d="M468.30 496.30 L472.90 496.30 L470.60 505.20 Z" fill="#fff" stroke="#262626" stroke-width="1.0" stroke-linejoin="miter"/>
<line x1="469.00" y1="545.50" x2="489.40" y2="545.50" stroke="#b0b0b0" stroke-width="1.0"/>
<rect x="476.80" y="542.90" width="5.00" height="5.00" fill="#a6a6a6"/>
<text x="492.90" y="548.30" font-size="7.9" fill="#1e1e1e" stroke="#1e1e1e" textLength="24.9" lengthAdjust="spacingAndGlyphs">Control</text>
<line x1="468.30" y1="554.80" x2="488.30" y2="554.80" stroke="#141414" stroke-width="1.7"/>
<circle cx="478.0" cy="554.9" r="3.0" fill="#141414"/>
<text x="491.20" y="556.90" font-size="8" fill="#1e1e1e" stroke="#1e1e1e" textLength="28.9" lengthAdjust="spacingAndGlyphs">CHEK1i</text>
<text fill="#1e1e1e" stroke="#1e1e1e" transform="translate(363.3 478.0) rotate(-90)" font-size="11.8" text-anchor="middle" textLength="76.5" lengthAdjust="spacingAndGlyphs">Volume (mm<tspan font-size="8.5" dy="-4">3</tspan><tspan dy="4">)</tspan></text>
<text x="371.20" y="601.80" font-size="11.7" fill="#1e1e1e" stroke="#1e1e1e" textLength="144.0" lengthAdjust="spacingAndGlyphs">Days after tumor inoculation</text>
<text x="434.20" y="377.40" font-size="12.3" text-anchor="middle" font-weight="bold" fill="#111" stroke="#111" textLength="60.5" lengthAdjust="spacingAndGlyphs">Insensitive</text>
<text x="335.80" y="369.60" font-size="12.8" font-weight="bold" fill="#111" stroke="#111">D</text>
</g>
<g id="panelE">
<defs><filter id="n11" x="0" y="0" width="100%" height="100%" color-interpolation-filters="sRGB"><feTurbulence type="fractalNoise" baseFrequency="0.48" numOctaves="3" seed="3"/><feColorMatrix type="matrix" values="0 0 0 0 0.52  0 0 0 0 0.46  0 0 0 0 0.48  2.4 0 0 0 -1.056"/><feGaussianBlur stdDeviation="0.35"/></filter><filter id="n12" x="0" y="0" width="100%" height="100%" color-interpolation-filters="sRGB"><feTurbulence type="fractalNoise" baseFrequency="0.48" numOctaves="3" seed="8"/><feColorMatrix type="matrix" values="0 0 0 0 0.48  0 0 0 0 0.38  0 0 0 0 0.41  2.8 0 0 0 -1.260"/><feGaussianBlur stdDeviation="0.35"/></filter><filter id="n21" x="0" y="0" width="100%" height="100%" color-interpolation-filters="sRGB"><feTurbulence type="fractalNoise" baseFrequency="0.45" numOctaves="3" seed="5"/><feColorMatrix type="matrix" values="0 0 0 0 0.5  0 0 0 0 0.5  0 0 0 0 0.62  2.4 0 0 0 -1.032"/><feGaussianBlur stdDeviation="0.35"/></filter><filter id="n22" x="0" y="0" width="100%" height="100%" color-interpolation-filters="sRGB"><feTurbulence type="fractalNoise" baseFrequency="0.5" numOctaves="3" seed="11"/><feColorMatrix type="matrix" values="0 0 0 0 0.45  0 0 0 0 0.29  0 0 0 0 0.35  3.6 0 0 0 -1.692"/><feGaussianBlur stdDeviation="0.3"/></filter><filter id="n31" x="0" y="0" width="100%" height="100%" color-interpolation-filters="sRGB"><feTurbulence type="fractalNoise" baseFrequency="0.48" numOctaves="3" seed="14"/><feColorMatrix type="matrix" values="0 0 0 0 0.6  0 0 0 0 0.56  0 0 0 0 0.57  2.4 0 0 0 -1.080"/><feGaussianBlur stdDeviation="0.35"/></filter><filter id="n32" x="0" y="0" width="100%" height="100%" color-interpolation-filters="sRGB"><feTurbulence type="fractalNoise" baseFrequency="0.48" numOctaves="3" seed="17"/><feColorMatrix type="matrix" values="0 0 0 0 0.55  0 0 0 0 0.46  0 0 0 0 0.48  2.4 0 0 0 -1.080"/><feGaussianBlur stdDeviation="0.35"/></filter><filter id="lf" x="0" y="0" width="100%" height="100%" color-interpolation-filters="sRGB"><feTurbulence type="fractalNoise" baseFrequency="0.04" numOctaves="1" seed="2"/><feColorMatrix type="matrix" values="0 0 0 0 1  0 0 0 0 1  0 0 0 0 1  3.0 0 0 0 -1.500"/><feGaussianBlur stdDeviation="0"/></filter><clipPath id="c21"><rect x="373.1" y="237.4" width="67" height="55.2"/></clipPath><clipPath id="c22"><rect x="442.2" y="237.4" width="67.4" height="55.2"/></clipPath><clipPath id="c32"><rect x="442.2" y="295.9" width="67.4" height="56.7"/></clipPath></defs>
<rect x="373.10" y="179.60" width="67.00" height="55.20" fill="#c0b9bb"/>
<rect x="373.1" y="179.6" width="67.0" height="55.2" filter="url(#n11)" opacity="0.35"/>
<rect x="373.1" y="179.6" width="67.0" height="55.2" filter="url(#lf)" opacity="0.18"/>
<rect x="433.10" y="231.20" width="4.20" height="2.10" fill="#4a4548"/>
<rect x="442.20" y="179.60" width="67.40" height="55.20" fill="#beb7b8"/>
<rect x="442.2" y="179.6" width="67.4" height="55.2" filter="url(#n12)" opacity="0.5"/>
<rect x="442.2" y="179.6" width="67.4" height="55.2" filter="url(#lf)" opacity="0.18"/>
<rect x="502.60" y="231.20" width="4.20" height="2.10" fill="#4a4548"/>
<rect x="373.10" y="237.40" width="67.00" height="55.20" fill="#bfbfc9"/>
<g clip-path="url(#c21)"><rect x="373.1" y="237.4" width="67.0" height="55.2" filter="url(#n21)" opacity="0.5"/><path d="M424 237 C433 246 438 260 434 276 C430 286 420 290 406 293 L441 293 L441 237 Z" fill="#d6d6dc"/><path d="M436 272 C433 283 426 289 416 293 L441 293 L441 268 Z" fill="#e4e4e9"/><path d="M372 283 C388 289 408 290 428 285 L434 293 L372 293 Z" fill="#cdcdd5"/><path d="M424 237 C433 246 438 260 434 276 C430 286 418 290 404 292" fill="none" stroke="#aeb0bf" stroke-width="1.1"/><path d="M428 237 C432 241 436 243 441 243 L441 237 Z" fill="#f1f1f3"/></g>
<rect x="373.1" y="237.4" width="67.0" height="55.2" filter="url(#lf)" opacity="0.18"/>
<rect x="433.10" y="289.00" width="4.20" height="2.10" fill="#4a4548"/>
<rect x="442.20" y="237.40" width="67.40" height="55.20" fill="#bcbabf"/>
<g clip-path="url(#c22)"><rect x="442.2" y="237.4" width="67.4" height="55.2" filter="url(#n22)" opacity="0.7"/><path d="M493 237 C499 244 505 249 510 251 L510 237 Z" fill="#cfccd0"/><path d="M442 237 L452 237 C447 243 444 250 442 256 Z" fill="#c6c6cc"/><ellipse cx="481" cy="268" rx="9" ry="5" fill="#b6b8c4" opacity="0.85"/><ellipse cx="452" cy="282" rx="7" ry="5" fill="#babac4" opacity="0.7"/></g>
<rect x="442.2" y="237.4" width="67.4" height="55.2" filter="url(#lf)" opacity="0.18"/>
<rect x="502.60" y="289.00" width="4.20" height="2.10" fill="#4a4548"/>
<rect x="373.10" y="295.90" width="67.00" height="56.70" fill="#c9c5c5"/>
<rect x="373.1" y="295.9" width="67.0" height="56.7" filter="url(#n31)" opacity="0.25"/>
<rect x="373.1" y="295.9" width="67.0" height="56.7" filter="url(#lf)" opacity="0.18"/>
<rect x="433.10" y="349.00" width="4.20" height="2.10" fill="#4a4548"/>
<rect x="442.20" y="295.90" width="67.40" height="56.70" fill="#c4bfc1"/>
<g clip-path="url(#c32)"><rect x="442.2" y="295.9" width="67.4" height="56.7" filter="url(#n32)" opacity="0.4"/><path d="M442 296 L477.5 296 C462 302 450 306 442 312.5 Z" fill="#dadcd2"/></g>
<rect x="442.2" y="295.9" width="67.4" height="56.7" filter="url(#lf)" opacity="0.18"/>
<rect x="502.60" y="349.00" width="4.20" height="2.10" fill="#4a4548"/>
<text x="376.40" y="190.40" font-size="8.5" fill="#222" stroke="#222" textLength="15.6" lengthAdjust="spacingAndGlyphs">D20</text>
<text x="376.40" y="247.40" font-size="8.5" fill="#222" stroke="#222">MM96L</text>
<text x="376.40" y="306.40" font-size="8.5" fill="#222" stroke="#222">MM370</text>
<text x="445.00" y="175.50" font-size="8.5" text-anchor="middle" fill="#2c2c2c" stroke="#2c2c2c" textLength="27.6" lengthAdjust="spacingAndGlyphs">γH2AX</text>
<text x="405.40" y="360.90" font-size="8.1" text-anchor="middle" fill="#2c2c2c" stroke="#2c2c2c" textLength="25.4" lengthAdjust="spacingAndGlyphs">Control</text>
<text x="468.60" y="360.90" font-size="8.1" text-anchor="middle" fill="#2c2c2c" stroke="#2c2c2c" textLength="38.8" lengthAdjust="spacingAndGlyphs">+GNE-323</text>
<text x="336.00" y="187.80" font-size="12.8" font-weight="bold" fill="#111" stroke="#111">E</text>
</g>
</svg>
</body></html>
